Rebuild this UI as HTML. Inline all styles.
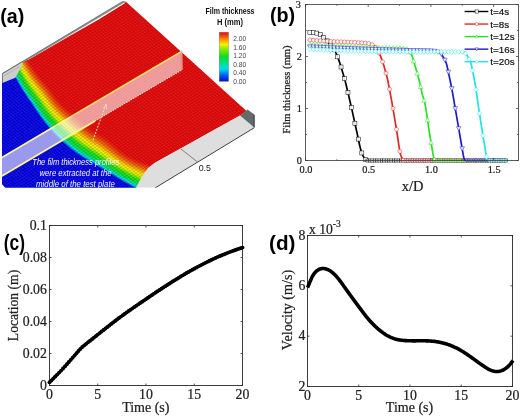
<!DOCTYPE html>
<html><head><meta charset="utf-8"><title>Figure</title>
<style>
html,body{margin:0;padding:0;background:#fff;}
body{width:520px;height:416px;overflow:hidden;}
svg{display:block;}
.sans{font-family:"Liberation Sans",sans-serif;}
.lg{stroke:#111;stroke-width:0.2px;}
.serif{font-family:"Liberation Serif",serif;stroke:#1a1a1a;stroke-width:0.22px;}
</style></head><body>
<svg width="520" height="416" viewBox="0 0 520 416">
<defs>
<filter id="blurA" x="-5%" y="-5%" width="110%" height="110%"><feGaussianBlur stdDeviation="0.45"/></filter>
<filter id="blurB" x="-5%" y="-5%" width="110%" height="110%"><feGaussianBlur stdDeviation="0.42"/></filter>
<filter id="soft" x="0" y="0" width="100%" height="100%" filterUnits="userSpaceOnUse"><feGaussianBlur stdDeviation="0.3"/></filter>
<filter id="blurC" x="-5%" y="-5%" width="110%" height="110%"><feGaussianBlur stdDeviation="0.35"/></filter>
<clipPath id="clipA"><polygon points="10,70.5 22,63.5 27.3,60.4 70,35.7 100,18.7 126.5,2.3 246.5,111 240,115.4 155,162.75 148,168 143,175 139,182 136,187.75 5,187.75 2,184.5 2,76"/></clipPath>
<pattern id="tex" width="1" height="1" patternUnits="userSpaceOnUse" patternTransform="matrix(2.3 -1.4 2.0 1.75 0 0)">
<circle cx="0.5" cy="0.5" r="0.3" fill="#fff" fill-opacity="0.10"/>
<rect x="0" y="0" width="1" height="0.26" fill="#000" fill-opacity="0.17"/>
<rect x="0" y="0" width="0.26" height="1" fill="#000" fill-opacity="0.17"/>
</pattern>
<linearGradient id="cbar" x1="0" y1="0" x2="0" y2="1">
<stop offset="0" stop-color="#e41414"/><stop offset="0.05" stop-color="#ee300a"/><stop offset="0.14" stop-color="#fa8c00"/><stop offset="0.25" stop-color="#f5f000"/><stop offset="0.36" stop-color="#78eb0a"/><stop offset="0.5" stop-color="#0adc28"/><stop offset="0.62" stop-color="#00e182"/><stop offset="0.75" stop-color="#00d7f0"/><stop offset="0.88" stop-color="#005af0"/><stop offset="1" stop-color="#0a0ad7"/>
</linearGradient>
</defs>
<rect width="520" height="416" fill="#fff"/>
<g filter="url(#soft)">
<g id="pa">
<g filter="url(#blurA)">
<polyline points="2.30,74.20 123.50,1.90 126.50,2.60" fill="none" stroke="#8c8c8c" stroke-width="1.7"/>
<polyline points="2.30,73.60 122.80,1.30" fill="none" stroke="#555" stroke-width="0.6"/>
<polygon points="10.00,70.50 22.00,63.50 27.30,60.40 70.00,35.70 100.00,18.70 126.50,2.30 246.50,111.00 240.00,115.40 155.00,162.75 148.00,168.00 143.00,175.00 139.00,182.00 136.00,187.75 5.00,187.75 2.00,184.50 2.00,76.00" fill="#ec0606"/>
<polygon points="26.60,56.35 28.00,58.86 29.45,61.35 30.95,63.80 32.51,66.22 34.11,68.61 35.78,70.96 37.50,73.26 39.28,75.52 41.11,77.73 42.99,79.92 44.88,82.09 46.76,84.26 48.60,86.47 50.39,88.72 52.10,91.03 53.77,93.38 55.43,95.73 57.13,98.05 58.92,100.30 60.82,102.45 62.82,104.51 64.91,106.50 67.05,108.42 69.24,110.31 71.44,112.16 73.65,114.00 75.85,115.85 78.05,117.70 80.23,119.58 82.38,121.50 84.52,123.43 86.68,125.35 88.88,127.20 91.16,128.94 93.55,130.53 96.03,131.98 98.57,133.35 101.11,134.70 103.63,136.10 106.07,137.61 108.40,139.27 110.64,141.06 112.82,142.94 114.98,144.86 117.13,146.79 119.32,148.68 121.55,150.51 123.84,152.26 126.19,153.91 128.63,155.42 131.14,156.80 133.73,158.05 136.37,159.20 139.05,160.27 141.76,161.28 144.49,162.25 147.21,163.20 149.92,164.15 152.60,165.11 137.00,190.00 0.00,190.00 0.00,60.00" fill="rgb(238, 13, 6)" clip-path="url(#clipA)"/>
<polygon points="26.20,56.70 27.60,59.21 29.05,61.70 30.55,64.16 32.11,66.59 33.71,68.98 35.37,71.33 37.08,73.65 38.86,75.91 40.69,78.13 42.56,80.32 44.44,82.50 46.32,84.69 48.16,86.90 49.94,89.16 51.65,91.48 53.32,93.83 54.98,96.18 56.69,98.50 58.47,100.76 60.36,102.92 62.36,104.98 64.44,106.98 66.59,108.91 68.77,110.81 70.96,112.67 73.17,114.52 75.37,116.37 77.56,118.24 79.74,120.12 81.90,122.04 84.04,123.98 86.20,125.89 88.41,127.75 90.69,129.49 93.08,131.09 95.56,132.54 98.09,133.92 100.64,135.28 103.16,136.69 105.60,138.19 107.93,139.85 110.18,141.64 112.38,143.50 114.54,145.42 116.71,147.33 118.91,149.21 121.15,151.04 123.44,152.78 125.80,154.42 128.24,155.94 130.76,157.32 133.34,158.58 135.98,159.74 138.66,160.82 141.37,161.85 144.09,162.83 146.82,163.79 149.52,164.75 152.20,165.72 137.00,190.00 0.00,190.00 0.00,60.00" fill="rgb(239, 19, 6)" clip-path="url(#clipA)"/>
<polygon points="25.80,57.05 27.21,59.56 28.66,62.06 30.16,64.52 31.71,66.95 33.31,69.35 34.96,71.71 36.67,74.03 38.44,76.30 40.27,78.53 42.13,80.73 44.01,82.92 45.88,85.11 47.71,87.33 49.49,89.60 51.20,91.92 52.87,94.28 54.54,96.63 56.24,98.96 58.02,101.22 59.91,103.38 61.91,105.46 63.98,107.46 66.12,109.41 68.29,111.31 70.49,113.18 72.69,115.04 74.89,116.90 77.08,118.77 79.26,120.66 81.41,122.58 83.56,124.52 85.72,126.44 87.93,128.29 90.22,130.04 92.60,131.64 95.08,133.11 97.62,134.49 100.17,135.86 102.68,137.27 105.13,138.78 107.47,140.43 109.73,142.21 111.93,144.07 114.11,145.97 116.29,147.87 118.50,149.75 120.75,151.56 123.05,153.30 125.41,154.94 127.85,156.46 130.37,157.84 132.96,159.11 135.59,160.28 138.27,161.38 140.98,162.41 143.70,163.40 146.42,164.38 149.12,165.35 151.80,166.34 137.00,190.00 0.00,190.00 0.00,60.00" fill="rgb(241, 26, 6)" clip-path="url(#clipA)"/>
<polygon points="25.40,57.40 26.81,59.92 28.26,62.41 29.76,64.88 31.30,67.32 32.90,69.72 34.55,72.09 36.26,74.42 38.02,76.70 39.84,78.93 41.70,81.14 43.57,83.33 45.44,85.53 47.27,87.76 49.05,90.03 50.76,92.36 52.42,94.72 54.09,97.08 55.79,99.41 57.57,101.67 59.46,103.85 61.45,105.93 63.52,107.94 65.65,109.90 67.82,111.81 70.01,113.70 72.21,115.56 74.40,117.43 76.59,119.30 78.77,121.20 80.93,123.12 83.08,125.06 85.25,126.98 87.46,128.84 89.75,130.59 92.13,132.19 94.61,133.67 97.14,135.06 99.69,136.44 102.21,137.85 104.66,139.36 107.01,141.01 109.27,142.78 111.49,144.63 113.68,146.52 115.87,148.41 118.09,150.28 120.34,152.09 122.65,153.82 125.02,155.46 127.47,156.97 129.99,158.36 132.57,159.64 135.21,160.82 137.88,161.93 140.59,162.97 143.30,163.98 146.02,164.97 148.72,165.95 151.40,166.95 137.00,190.00 0.00,190.00 0.00,60.00" fill="rgb(242, 35, 6)" clip-path="url(#clipA)"/>
<polygon points="25.00,57.75 26.41,60.27 27.87,62.77 29.36,65.24 30.90,67.68 32.50,70.09 34.14,72.47 35.84,74.80 37.60,77.09 39.42,79.33 41.27,81.55 43.14,83.75 45.00,85.96 46.83,88.19 48.60,90.47 50.31,92.80 51.98,95.17 53.64,97.53 55.34,99.86 57.12,102.13 59.01,104.31 61.00,106.40 63.06,108.42 65.19,110.39 67.35,112.31 69.53,114.21 71.72,116.08 73.92,117.96 76.11,119.84 78.29,121.74 80.45,123.67 82.60,125.61 84.77,127.53 86.99,129.38 89.28,131.14 91.66,132.75 94.14,134.23 96.67,135.63 99.22,137.02 101.73,138.43 104.18,139.95 106.54,141.59 108.82,143.36 111.04,145.19 113.24,147.07 115.45,148.96 117.67,150.81 119.94,152.61 122.26,154.34 124.63,155.97 127.08,157.49 129.60,158.89 132.18,160.17 134.82,161.36 137.49,162.48 140.19,163.54 142.91,164.56 145.62,165.56 148.32,166.55 151.00,167.56 137.00,190.00 0.00,190.00 0.00,60.00" fill="rgb(242, 46, 6)" clip-path="url(#clipA)"/>
<polygon points="24.60,58.10 26.02,60.62 27.47,63.12 28.96,65.60 30.50,68.05 32.09,70.46 33.73,72.85 35.43,75.19 37.18,77.48 38.99,79.73 40.84,81.95 42.71,84.16 44.56,86.38 46.38,88.62 48.15,90.91 49.86,93.25 51.53,95.61 53.19,97.98 54.90,100.32 56.68,102.59 58.56,104.78 60.54,106.88 62.60,108.91 64.72,110.88 66.88,112.81 69.05,114.72 71.24,116.60 73.43,118.49 75.62,120.37 77.80,122.28 79.96,124.21 82.12,126.15 84.29,128.07 86.51,129.93 88.80,131.68 91.19,133.30 93.67,134.79 96.20,136.20 98.74,137.59 101.26,139.02 103.71,140.53 106.08,142.18 108.36,143.93 110.60,145.76 112.81,147.62 115.02,149.50 117.26,151.34 119.54,153.13 121.86,154.86 124.24,156.49 126.69,158.01 129.21,159.41 131.80,160.70 134.43,161.90 137.10,163.03 139.80,164.10 142.51,165.14 145.22,166.15 147.92,167.15 150.60,168.17 137.00,190.00 0.00,190.00 0.00,60.00" fill="rgb(242, 58, 5)" clip-path="url(#clipA)"/>
<polygon points="24.20,58.45 25.62,60.97 27.07,63.48 28.57,65.96 30.10,68.41 31.69,70.84 33.32,73.22 35.02,75.57 36.77,77.87 38.57,80.13 40.41,82.36 42.27,84.58 44.12,86.81 45.94,89.06 47.71,91.35 49.41,93.69 51.08,96.06 52.75,98.43 54.45,100.77 56.23,103.05 58.11,105.24 60.08,107.35 62.14,109.39 64.25,111.37 66.40,113.31 68.58,115.23 70.76,117.12 72.95,119.01 75.14,120.91 77.32,122.82 79.48,124.75 81.64,126.70 83.82,128.62 86.04,130.47 88.33,132.23 90.72,133.86 93.20,135.35 95.72,136.77 98.27,138.17 100.78,139.60 103.24,141.12 105.61,142.76 107.91,144.50 110.15,146.32 112.38,148.18 114.60,150.04 116.85,151.87 119.14,153.66 121.47,155.38 123.85,157.01 126.31,158.53 128.83,159.93 131.41,161.23 134.05,162.44 136.71,163.58 139.41,164.67 142.12,165.71 144.82,166.74 147.52,167.76 150.20,168.79 137.00,190.00 0.00,190.00 0.00,60.00" fill="rgb(242, 70, 5)" clip-path="url(#clipA)"/>
<polygon points="23.80,58.80 25.22,61.32 26.68,63.83 28.17,66.32 29.70,68.78 31.28,71.21 32.92,73.60 34.60,75.95 36.35,78.27 38.15,80.53 39.99,82.77 41.84,85.00 43.68,87.23 45.49,89.49 47.26,91.78 48.96,94.13 50.63,96.51 52.30,98.88 54.00,101.22 55.78,103.51 57.66,105.70 59.63,107.82 61.68,109.87 63.78,111.86 65.93,113.82 68.10,115.74 70.28,117.64 72.47,119.54 74.65,121.44 76.83,123.36 79.00,125.29 81.16,127.24 83.34,129.16 85.56,131.02 87.86,132.78 90.25,134.41 92.72,135.91 95.25,137.34 97.79,138.75 100.31,140.18 102.77,141.70 105.15,143.34 107.45,145.07 109.71,146.88 111.95,148.73 114.18,150.58 116.44,152.40 118.73,154.18 121.07,155.90 123.46,157.52 125.92,159.04 128.44,160.45 131.03,161.76 133.66,162.98 136.32,164.13 139.02,165.23 141.72,166.29 144.43,167.33 147.12,168.36 149.80,169.40 137.00,190.00 0.00,190.00 0.00,60.00" fill="rgb(242, 81, 5)" clip-path="url(#clipA)"/>
<polygon points="23.40,59.15 24.83,61.68 26.28,64.19 27.77,66.68 29.30,69.14 30.88,71.58 32.51,73.98 34.19,76.34 35.93,78.66 37.72,80.93 39.56,83.18 41.40,85.41 43.24,87.65 45.05,89.92 46.81,92.22 48.51,94.57 50.18,96.95 51.85,99.33 53.55,101.68 55.33,103.96 57.20,106.17 59.17,108.29 61.22,110.35 63.32,112.36 65.46,114.32 67.62,116.25 69.80,118.16 71.98,120.07 74.17,121.98 76.34,123.90 78.51,125.84 80.68,127.78 82.86,129.70 85.09,131.56 87.39,133.33 89.78,134.96 92.25,136.47 94.78,137.91 97.32,139.33 99.84,140.77 102.30,142.28 104.68,143.92 107.00,145.65 109.27,147.45 111.51,149.28 113.76,151.12 116.03,152.94 118.33,154.71 120.68,156.41 123.07,158.04 125.53,159.56 128.06,160.98 130.64,162.29 133.27,163.52 135.93,164.68 138.62,165.79 141.32,166.87 144.03,167.92 146.72,168.96 149.40,170.01 137.00,190.00 0.00,190.00 0.00,60.00" fill="rgb(242, 93, 4)" clip-path="url(#clipA)"/>
<polygon points="23.00,59.50 24.43,62.03 25.88,64.54 27.37,67.04 28.90,69.51 30.48,71.95 32.10,74.36 33.77,76.72 35.51,79.05 37.30,81.33 39.13,83.59 40.97,85.83 42.80,88.08 44.61,90.35 46.37,92.66 48.07,95.02 49.73,97.40 51.40,99.78 53.11,102.13 54.88,104.42 56.75,106.63 58.72,108.77 60.75,110.83 62.85,112.85 64.99,114.82 67.15,116.76 69.32,118.68 71.50,120.60 73.68,122.51 75.86,124.44 78.03,126.38 80.20,128.33 82.38,130.25 84.62,132.11 86.92,133.88 89.31,135.52 91.78,137.04 94.30,138.48 96.84,139.90 99.36,141.35 101.83,142.87 104.22,144.50 106.54,146.22 108.82,148.01 111.08,149.83 113.34,151.66 115.62,153.47 117.93,155.23 120.28,156.93 122.68,158.56 125.15,160.08 127.67,161.50 130.26,162.82 132.88,164.06 135.54,165.23 138.23,166.36 140.93,167.44 143.63,168.51 146.32,169.56 149.00,170.62 137.00,190.00 0.00,190.00 0.00,60.00" fill="rgb(243, 107, 4)" clip-path="url(#clipA)"/>
<polygon points="22.60,59.85 24.03,62.38 25.49,64.90 26.98,67.40 28.50,69.87 30.07,72.32 31.69,74.73 33.36,77.11 35.09,79.44 36.88,81.73 38.70,83.99 40.54,86.24 42.36,88.50 44.16,90.78 45.92,93.10 47.62,95.46 49.29,97.84 50.96,100.23 52.66,102.58 54.43,104.88 56.30,107.10 58.26,109.24 60.29,111.32 62.38,113.34 64.51,115.32 66.67,117.27 68.84,119.20 71.02,121.13 73.20,123.05 75.37,124.97 77.54,126.92 79.71,128.87 81.91,130.79 84.14,132.66 86.45,134.43 88.84,136.07 91.31,137.60 93.83,139.05 96.37,140.48 98.89,141.93 101.36,143.45 103.75,145.08 106.09,146.79 108.38,148.57 110.65,150.38 112.92,152.20 115.20,154.00 117.52,155.76 119.88,157.45 122.29,159.07 124.76,160.60 127.29,162.02 129.87,163.35 132.50,164.60 135.16,165.79 137.84,166.92 140.53,168.02 143.23,169.10 145.92,170.16 148.60,171.24 137.00,190.00 0.00,190.00 0.00,60.00" fill="rgb(245, 123, 3)" clip-path="url(#clipA)"/>
<polygon points="22.20,60.20 23.63,62.73 25.09,65.25 26.58,67.76 28.10,70.24 29.67,72.69 31.28,75.11 32.95,77.49 34.67,79.83 36.45,82.13 38.27,84.40 40.10,86.66 41.93,88.92 43.72,91.21 45.47,93.53 47.17,95.90 48.84,98.29 50.51,100.68 52.21,103.04 53.98,105.34 55.85,107.56 57.80,109.71 59.83,111.80 61.92,113.83 64.04,115.82 66.19,117.78 68.36,119.72 70.53,121.65 72.71,123.58 74.89,125.51 77.06,127.46 79.23,129.41 81.43,131.34 83.67,133.20 85.97,134.97 88.36,136.62 90.83,138.16 93.35,139.62 95.89,141.06 98.41,142.52 100.89,144.04 103.29,145.66 105.63,147.37 107.93,149.14 110.21,150.94 112.49,152.74 114.79,154.53 117.12,156.28 119.49,157.97 121.90,159.59 124.37,161.12 126.90,162.54 129.49,163.88 132.11,165.14 134.77,166.34 137.44,167.48 140.14,168.60 142.83,169.69 145.52,170.77 148.20,171.85 137.00,190.00 0.00,190.00 0.00,60.00" fill="rgb(247, 139, 2)" clip-path="url(#clipA)"/>
<polygon points="21.80,60.55 23.24,63.08 24.70,65.61 26.18,68.12 27.70,70.60 29.26,73.06 30.87,75.49 32.53,77.88 34.25,80.23 36.03,82.53 37.84,84.81 39.67,87.08 41.49,89.35 43.28,91.64 45.02,93.97 46.72,96.34 48.39,98.74 50.06,101.13 51.76,103.49 53.54,105.80 55.40,108.03 57.35,110.19 59.37,112.28 61.45,114.32 63.57,116.32 65.71,118.29 67.88,120.24 70.05,122.18 72.23,124.12 74.40,126.05 76.58,128.00 78.75,129.96 80.95,131.88 83.20,133.75 85.50,135.52 87.89,137.18 90.36,138.72 92.88,140.19 95.42,141.64 97.94,143.10 100.42,144.62 102.82,146.24 105.18,147.94 107.49,149.70 109.78,151.49 112.07,153.29 114.38,155.06 116.72,156.80 119.09,158.49 121.51,160.11 123.99,161.63 126.52,163.06 129.10,164.41 131.72,165.68 134.38,166.89 137.05,168.05 139.74,169.17 142.44,170.28 145.12,171.37 147.80,172.46 137.00,190.00 0.00,190.00 0.00,60.00" fill="rgb(250, 156, 1)" clip-path="url(#clipA)"/>
<polygon points="21.40,60.90 22.84,63.44 24.30,65.96 25.79,68.47 27.30,70.97 28.86,73.43 30.46,75.87 32.12,78.26 33.83,80.62 35.60,82.93 37.41,85.22 39.23,87.49 41.05,89.77 42.83,92.07 44.58,94.41 46.27,96.78 47.94,99.18 49.61,101.58 51.32,103.94 53.09,106.26 54.95,108.49 56.89,110.66 58.91,112.76 60.98,114.81 63.10,116.83 65.24,118.81 67.39,120.76 69.56,122.71 71.74,124.65 73.92,126.59 76.09,128.55 78.27,130.50 80.48,132.43 82.72,134.29 85.03,136.07 87.42,137.73 89.89,139.28 92.41,140.76 94.94,142.22 97.46,143.68 99.94,145.20 102.36,146.82 104.72,148.51 107.04,150.26 109.35,152.04 111.65,153.83 113.97,155.60 116.32,157.33 118.70,159.01 121.12,160.62 123.60,162.15 126.13,163.59 128.71,164.94 131.33,166.22 133.99,167.44 136.66,168.61 139.35,169.75 142.04,170.87 144.72,171.97 147.40,173.07 137.00,190.00 0.00,190.00 0.00,60.00" fill="rgb(252, 172, 0)" clip-path="url(#clipA)"/>
<polygon points="21.00,61.25 22.44,63.79 23.90,66.32 25.39,68.83 26.90,71.33 28.45,73.80 30.05,76.25 31.71,78.65 33.42,81.01 35.18,83.33 36.98,85.62 38.80,87.91 40.61,90.20 42.39,92.51 44.13,94.85 45.82,97.23 47.49,99.63 49.16,102.03 50.87,104.40 52.64,106.71 54.50,108.96 56.44,111.13 58.45,113.24 60.52,115.31 62.62,117.33 64.76,119.32 66.91,121.28 69.08,123.24 71.25,125.18 73.43,127.13 75.61,129.09 77.79,131.04 80.00,132.97 82.25,134.84 84.56,136.62 86.95,138.29 89.42,139.84 91.93,141.33 94.47,142.79 96.99,144.26 99.47,145.79 101.90,147.40 104.26,149.09 106.60,150.83 108.91,152.59 111.23,154.37 113.56,156.13 115.91,157.85 118.30,159.53 120.73,161.14 123.21,162.67 125.75,164.11 128.33,165.47 130.95,166.76 133.60,167.99 136.27,169.18 138.95,170.33 141.64,171.46 144.33,172.57 147.00,173.69 137.00,190.00 0.00,190.00 0.00,60.00" fill="rgb(252, 189, 0)" clip-path="url(#clipA)"/>
<polygon points="20.60,61.60 22.05,64.14 23.51,66.67 24.99,69.19 26.50,71.70 28.05,74.18 29.64,76.62 31.29,79.03 33.00,81.40 34.76,83.73 36.55,86.03 38.36,88.32 40.17,90.62 41.95,92.94 43.68,95.28 45.38,97.67 47.04,100.07 48.72,102.48 50.42,104.85 52.19,107.17 54.04,109.42 55.98,111.60 57.99,113.73 60.05,115.80 62.15,117.83 64.28,119.83 66.43,121.80 68.60,123.77 70.77,125.72 72.95,127.67 75.13,129.63 77.31,131.59 79.52,133.51 81.77,135.38 84.09,137.17 86.48,138.84 88.95,140.41 91.46,141.90 93.99,143.37 96.52,144.85 99.00,146.37 101.43,147.98 103.81,149.66 106.15,151.39 108.48,153.15 110.81,154.91 113.15,156.66 115.51,158.38 117.91,160.05 120.34,161.66 122.83,163.19 125.36,164.63 127.94,166.00 130.56,167.30 133.21,168.54 135.87,169.74 138.55,170.91 141.24,172.05 143.93,173.17 146.60,174.30 137.00,190.00 0.00,190.00 0.00,60.00" fill="rgb(251, 206, 0)" clip-path="url(#clipA)"/>
<polygon points="20.20,61.95 21.65,64.49 23.11,67.03 24.59,69.55 26.10,72.06 27.65,74.55 29.24,77.00 30.88,79.42 32.58,81.79 34.33,84.13 36.12,86.44 37.93,88.74 39.73,91.04 41.50,93.37 43.24,95.72 44.93,98.11 46.60,100.52 48.27,102.92 49.97,105.30 51.74,107.63 53.59,109.89 55.52,112.08 57.53,114.21 59.58,116.29 61.68,118.33 63.80,120.34 65.95,122.32 68.11,124.29 70.28,126.25 72.46,128.21 74.64,130.17 76.83,132.13 79.04,134.06 81.30,135.93 83.62,137.72 86.01,139.39 88.47,140.97 90.98,142.47 93.52,143.95 96.04,145.43 98.53,146.96 100.97,148.56 103.35,150.23 105.71,151.95 108.05,153.70 110.39,155.45 112.74,157.19 115.11,158.90 117.51,160.57 119.95,162.17 122.44,163.71 124.98,165.15 127.56,166.53 130.17,167.84 132.82,169.09 135.48,170.30 138.16,171.48 140.84,172.64 143.53,173.78 146.20,174.91 137.00,190.00 0.00,190.00 0.00,60.00" fill="rgb(250, 223, 0)" clip-path="url(#clipA)"/>
<polygon points="19.80,62.30 21.25,64.84 22.72,67.38 24.20,69.91 25.70,72.43 27.24,74.92 28.83,77.38 30.46,79.80 32.16,82.19 33.91,84.53 35.70,86.85 37.50,89.15 39.29,91.47 41.06,93.80 42.79,96.16 44.48,98.55 46.15,100.97 47.82,103.37 49.53,105.76 51.29,108.09 53.14,110.35 55.07,112.55 57.06,114.69 59.12,116.78 61.21,118.83 63.33,120.85 65.47,122.84 67.63,124.82 69.80,126.79 71.98,128.75 74.16,130.72 76.35,132.68 78.57,134.60 80.83,136.47 83.15,138.26 85.54,139.95 88.00,141.53 90.51,143.04 93.04,144.53 95.57,146.01 98.06,147.54 100.50,149.14 102.90,150.81 105.26,152.51 107.62,154.25 109.96,155.99 112.32,157.72 114.71,159.43 117.12,161.09 119.56,162.69 122.05,164.22 124.59,165.68 127.17,167.06 129.79,168.38 132.43,169.64 135.09,170.87 137.76,172.06 140.44,173.23 143.13,174.38 145.80,175.53 137.00,190.00 0.00,190.00 0.00,60.00" fill="rgb(250, 240, 0)" clip-path="url(#clipA)"/>
<polygon points="19.40,62.65 20.86,65.19 22.32,67.74 23.80,70.27 25.30,72.79 26.84,75.29 28.42,77.76 30.05,80.19 31.74,82.58 33.49,84.93 35.27,87.25 37.06,89.57 38.85,91.89 40.61,94.23 42.34,96.60 44.03,99.00 45.70,101.41 47.37,103.82 49.08,106.21 50.84,108.55 52.69,110.82 54.61,113.02 56.60,115.17 58.65,117.27 60.73,119.33 62.85,121.36 64.99,123.36 67.14,125.35 69.31,127.32 71.49,129.29 73.68,131.26 75.87,133.22 78.09,135.15 80.35,137.02 82.67,138.81 85.07,140.50 87.53,142.09 90.04,143.61 92.57,145.10 95.09,146.60 97.59,148.13 100.04,149.72 102.44,151.38 104.82,153.08 107.18,154.80 109.54,156.53 111.91,158.25 114.30,159.95 116.72,161.61 119.17,163.21 121.67,164.74 124.21,166.20 126.79,167.59 129.40,168.92 132.04,170.20 134.70,171.43 137.37,172.64 140.05,173.82 142.73,174.98 145.40,176.14 137.00,190.00 0.00,190.00 0.00,60.00" fill="rgb(241, 240, 0)" clip-path="url(#clipA)"/>
<polygon points="19.00,63.00 20.46,65.55 21.92,68.09 23.40,70.63 24.90,73.16 26.43,75.66 28.01,78.13 29.64,80.57 31.32,82.97 33.06,85.33 34.84,87.66 36.63,89.99 38.41,92.31 40.17,94.66 41.90,97.03 43.58,99.44 45.25,101.86 46.93,104.27 48.63,106.66 50.40,109.00 52.24,111.28 54.16,113.50 56.14,115.65 58.18,117.76 60.26,119.83 62.37,121.87 64.51,123.88 66.66,125.88 68.83,127.86 71.01,129.83 73.19,131.80 75.39,133.76 77.61,135.69 79.88,137.57 82.20,139.36 84.60,141.05 87.06,142.65 89.56,144.18 92.09,145.68 94.62,147.18 97.12,148.71 99.57,150.30 101.99,151.95 104.38,153.64 106.75,155.35 109.12,157.07 111.50,158.79 113.90,160.47 116.33,162.12 118.78,163.72 121.28,165.26 123.82,166.72 126.40,168.12 129.01,169.46 131.65,170.75 134.30,172.00 136.97,173.21 139.65,174.41 142.33,175.58 145.00,176.75 137.00,190.00 0.00,190.00 0.00,60.00" fill="rgb(232, 241, 0)" clip-path="url(#clipA)"/>
<polygon points="18.60,63.35 20.06,65.90 21.53,68.45 23.00,70.99 24.50,73.52 26.03,76.03 27.60,78.51 29.22,80.96 30.90,83.36 32.64,85.73 34.41,88.07 36.19,90.40 37.97,92.74 39.73,95.09 41.45,97.47 43.13,99.88 44.80,102.30 46.48,104.72 48.18,107.12 49.95,109.46 51.79,111.75 53.70,113.97 55.68,116.14 57.71,118.26 59.79,120.34 61.90,122.38 64.03,124.40 66.18,126.40 68.34,128.39 70.52,130.37 72.71,132.34 74.91,134.31 77.14,136.24 79.41,138.11 81.73,139.91 84.13,141.61 86.58,143.21 89.09,144.75 91.62,146.26 94.14,147.76 96.65,149.29 99.11,150.88 101.53,152.53 103.93,154.20 106.32,155.91 108.70,157.62 111.09,159.32 113.50,161.00 115.93,162.64 118.39,164.24 120.90,165.78 123.44,167.24 126.02,168.65 128.62,170.00 131.26,171.30 133.91,172.56 136.58,173.79 139.25,175.00 141.93,176.18 144.60,177.36 137.00,190.00 0.00,190.00 0.00,60.00" fill="rgb(224, 242, 0)" clip-path="url(#clipA)"/>
<polygon points="18.20,63.70 19.67,66.25 21.13,68.80 22.61,71.35 24.10,73.89 25.63,76.40 27.19,78.89 28.81,81.34 30.49,83.75 32.21,86.13 33.98,88.48 35.76,90.82 37.53,93.16 39.28,95.52 41.00,97.91 42.69,100.32 44.35,102.75 46.03,105.17 47.74,107.57 49.50,109.92 51.33,112.21 53.25,114.44 55.22,116.62 57.25,118.75 59.32,120.84 61.42,122.89 63.54,124.92 65.69,126.93 67.86,128.93 70.04,130.91 72.23,132.89 74.43,134.85 76.66,136.78 78.93,138.66 81.26,140.46 83.65,142.16 86.11,143.78 88.62,145.32 91.14,146.84 93.67,148.34 96.18,149.88 98.64,151.46 101.08,153.10 103.49,154.77 105.88,156.46 108.28,158.16 110.68,159.85 113.10,161.52 115.54,163.16 118.00,164.76 120.51,166.29 123.05,167.77 125.63,169.18 128.24,170.54 130.87,171.85 133.52,173.12 136.18,174.37 138.85,175.58 141.53,176.79 144.20,177.97 137.00,190.00 0.00,190.00 0.00,60.00" fill="rgb(215, 242, 0)" clip-path="url(#clipA)"/>
<polygon points="17.80,64.05 19.27,66.60 20.74,69.16 22.21,71.71 23.70,74.25 25.22,76.77 26.78,79.27 28.39,81.73 30.07,84.15 31.79,86.53 33.55,88.89 35.33,91.23 37.09,93.58 38.84,95.95 40.55,98.35 42.24,100.77 43.91,103.20 45.58,105.62 47.29,108.02 49.05,110.38 50.88,112.68 52.79,114.91 54.76,117.10 56.78,119.24 58.84,121.34 60.94,123.40 63.06,125.44 65.21,127.46 67.37,129.46 69.55,131.45 71.74,133.43 73.95,135.39 76.18,137.33 78.46,139.20 80.79,141.01 83.18,142.72 85.64,144.34 88.14,145.89 90.67,147.42 93.19,148.93 95.70,150.46 98.18,152.04 100.62,153.67 103.04,155.33 105.45,157.01 107.86,158.70 110.27,160.38 112.69,162.05 115.14,163.68 117.61,165.27 120.12,166.81 122.67,168.29 125.24,169.71 127.85,171.08 130.48,172.40 133.12,173.69 135.78,174.94 138.45,176.17 141.13,177.39 143.80,178.59 137.00,190.00 0.00,190.00 0.00,60.00" fill="rgb(178, 240, 4)" clip-path="url(#clipA)"/>
<polygon points="17.40,64.40 18.87,66.95 20.34,69.51 21.81,72.07 23.30,74.62 24.82,77.14 26.37,79.65 27.98,82.11 29.65,84.54 31.37,86.93 33.12,89.29 34.89,91.65 36.65,94.01 38.40,96.39 40.11,98.78 41.79,101.21 43.46,103.64 45.13,106.07 46.84,108.47 48.60,110.84 50.43,113.14 52.33,115.39 54.30,117.58 56.31,119.73 58.37,121.84 60.46,123.92 62.58,125.96 64.72,127.99 66.89,130.00 69.07,131.99 71.26,133.97 73.47,135.94 75.71,137.87 77.98,139.75 80.32,141.55 82.71,143.27 85.17,144.90 87.67,146.47 90.19,147.99 92.72,149.51 95.23,151.05 97.71,152.63 100.17,154.24 102.60,155.89 105.02,157.56 107.43,159.24 109.86,160.91 112.29,162.57 114.75,164.20 117.23,165.79 119.74,167.33 122.28,168.81 124.86,170.24 127.46,171.62 130.09,172.95 132.73,174.25 135.39,175.52 138.06,176.76 140.73,177.99 143.40,179.20 137.00,190.00 0.00,190.00 0.00,60.00" fill="rgb(140, 238, 7)" clip-path="url(#clipA)"/>
<polygon points="17.00,64.75 18.48,67.31 19.94,69.87 21.41,72.43 22.90,74.98 24.41,77.52 25.96,80.02 27.57,82.50 29.23,84.93 30.94,87.33 32.69,89.70 34.46,92.06 36.22,94.43 37.95,96.82 39.66,99.22 41.34,101.65 43.01,104.09 44.69,106.52 46.39,108.93 48.15,111.29 49.98,113.61 51.88,115.86 53.84,118.06 55.85,120.22 57.90,122.34 59.99,124.43 62.10,126.48 64.24,128.52 66.40,130.53 68.58,132.53 70.77,134.51 72.99,136.48 75.23,138.41 77.51,140.29 79.84,142.10 82.24,143.82 84.70,145.46 87.19,147.04 89.72,148.57 92.25,150.09 94.76,151.63 97.25,153.21 99.71,154.82 102.15,156.46 104.58,158.11 107.01,159.78 109.44,161.44 111.89,163.09 114.35,164.72 116.84,166.31 119.35,167.85 121.90,169.33 124.47,170.77 127.07,172.16 129.70,173.50 132.34,174.82 134.99,176.10 137.66,177.35 140.33,178.59 143.00,179.81 137.00,190.00 0.00,190.00 0.00,60.00" fill="rgb(105, 235, 11)" clip-path="url(#clipA)"/>
<polygon points="16.60,65.10 18.08,67.66 19.55,70.22 21.02,72.79 22.50,75.35 24.01,77.89 25.56,80.40 27.15,82.88 28.81,85.32 30.52,87.73 32.26,90.11 34.02,92.48 35.78,94.86 37.51,97.25 39.21,99.66 40.89,102.09 42.56,104.54 44.24,106.97 45.95,109.38 47.70,111.75 49.53,114.07 51.42,116.33 53.38,118.55 55.38,120.71 57.43,122.84 59.51,124.94 61.62,127.00 63.76,129.04 65.92,131.06 68.10,133.07 70.29,135.06 72.51,137.03 74.75,138.96 77.04,140.84 79.37,142.65 81.77,144.38 84.22,146.02 86.72,147.61 89.24,149.15 91.77,150.68 94.29,152.21 96.78,153.79 99.26,155.39 101.71,157.02 104.15,158.67 106.59,160.32 109.03,161.98 111.49,163.62 113.95,165.24 116.45,166.82 118.96,168.37 121.51,169.86 124.09,171.30 126.69,172.70 129.31,174.06 131.95,175.38 134.60,176.67 137.26,177.94 139.93,179.19 142.60,180.43 137.00,190.00 0.00,190.00 0.00,60.00" fill="rgb(78, 232, 15)" clip-path="url(#clipA)"/>
<polygon points="16.20,65.45 17.68,68.01 19.15,70.58 20.62,73.15 22.10,75.71 23.60,78.26 25.15,80.78 26.74,83.27 28.39,85.71 30.10,88.13 31.84,90.52 33.59,92.90 35.34,95.28 37.06,97.68 38.77,100.10 40.45,102.54 42.11,104.98 43.79,107.42 45.50,109.83 47.26,112.21 49.08,114.53 50.97,116.81 52.91,119.03 54.91,121.21 56.95,123.34 59.03,125.45 61.14,127.52 63.27,129.57 65.43,131.60 67.61,133.61 69.81,135.60 72.03,137.57 74.27,139.50 76.56,141.38 78.90,143.20 81.30,144.93 83.75,146.58 86.25,148.18 88.77,149.73 91.30,151.26 93.82,152.80 96.32,154.37 98.80,155.96 101.26,157.58 103.72,159.22 106.17,160.86 108.62,162.51 111.08,164.14 113.56,165.76 116.06,167.34 118.58,168.88 121.13,170.38 123.70,171.83 126.30,173.24 128.92,174.61 131.55,175.94 134.20,177.25 136.86,178.53 139.53,179.79 142.20,181.04 137.00,190.00 0.00,190.00 0.00,60.00" fill="rgb(51, 229, 20)" clip-path="url(#clipA)"/>
<polygon points="15.80,65.80 17.29,68.36 18.75,70.93 20.22,73.51 21.70,76.08 23.20,78.63 24.74,81.16 26.33,83.65 27.97,86.11 29.67,88.53 31.41,90.92 33.16,93.31 34.90,95.70 36.62,98.11 38.32,100.53 40.00,102.98 41.67,105.43 43.34,107.87 45.05,110.29 46.81,112.67 48.63,115.00 50.51,117.28 52.45,119.51 54.45,121.70 56.48,123.85 58.55,125.96 60.66,128.04 62.79,130.10 64.95,132.13 67.12,134.15 69.32,136.14 71.54,138.11 73.80,140.05 76.09,141.93 78.43,143.75 80.83,145.49 83.28,147.15 85.77,148.75 88.29,150.30 90.82,151.84 93.35,153.38 95.86,154.95 98.34,156.54 100.82,158.15 103.29,159.77 105.75,161.40 108.21,163.04 110.68,164.67 113.16,166.28 115.67,167.86 118.19,169.40 120.74,170.90 123.32,172.36 125.91,173.78 128.53,175.16 131.16,176.51 133.81,177.83 136.46,179.12 139.13,180.40 141.80,181.65 137.00,190.00 0.00,190.00 0.00,60.00" fill="rgb(24, 226, 24)" clip-path="url(#clipA)"/>
<polygon points="15.40,66.15 16.89,68.71 18.36,71.29 19.82,73.87 21.30,76.44 22.80,79.00 24.33,81.53 25.91,84.04 27.55,86.50 29.25,88.93 30.98,91.33 32.72,93.73 34.46,96.13 36.18,98.54 37.87,100.97 39.55,103.42 41.22,105.87 42.90,108.32 44.60,110.74 46.36,113.13 48.17,115.46 50.05,117.75 51.99,119.99 53.98,122.19 56.01,124.35 58.08,126.47 60.18,128.56 62.31,130.63 64.46,132.67 66.64,134.69 68.84,136.68 71.06,138.66 73.32,140.59 75.62,142.48 77.96,144.30 80.36,146.04 82.81,147.71 85.30,149.32 87.82,150.88 90.35,152.43 92.88,153.97 95.39,155.53 97.89,157.11 100.37,158.71 102.85,160.32 105.33,161.95 107.80,163.57 110.28,165.19 112.77,166.80 115.28,168.38 117.80,169.92 120.36,171.42 122.93,172.89 125.53,174.32 128.14,175.71 130.77,177.07 133.41,178.41 136.07,179.71 138.73,181.00 141.40,182.26 137.00,190.00 0.00,190.00 0.00,60.00" fill="rgb(20, 226, 33)" clip-path="url(#clipA)"/>
<polygon points="15.00,66.50 16.49,69.07 17.96,71.64 19.43,74.23 20.90,76.81 22.39,79.37 23.92,81.91 25.50,84.42 27.14,86.89 28.83,89.33 30.55,91.74 32.29,94.14 34.02,96.55 35.73,98.97 37.43,101.41 39.10,103.86 40.77,106.32 42.45,108.77 44.16,111.19 45.91,113.58 47.72,115.93 49.60,118.22 51.53,120.47 53.51,122.68 55.54,124.85 57.60,126.98 59.70,129.08 61.82,131.16 63.98,133.20 66.15,135.22 68.36,137.23 70.58,139.20 72.84,141.14 75.14,143.02 77.49,144.84 79.89,146.59 82.34,148.27 84.82,149.89 87.34,151.46 89.87,153.01 92.41,154.55 94.93,156.11 97.43,157.68 99.93,159.27 102.42,160.88 104.90,162.49 107.39,164.10 109.88,165.72 112.37,167.32 114.89,168.89 117.42,170.44 119.97,171.95 122.54,173.42 125.14,174.85 127.75,176.26 130.38,177.64 133.02,178.98 135.67,180.30 138.33,181.60 141.00,182.88 137.00,190.00 0.00,190.00 0.00,60.00" fill="rgb(15, 225, 42)" clip-path="url(#clipA)"/>
<polygon points="14.60,66.85 16.09,69.42 17.57,72.00 19.03,74.59 20.50,77.17 21.99,79.74 23.51,82.29 25.08,84.81 26.72,87.28 28.40,89.73 30.12,92.15 31.85,94.56 33.58,96.97 35.29,99.40 36.98,101.85 38.65,104.30 40.32,106.77 42.00,109.22 43.71,111.65 45.46,114.04 47.27,116.39 49.14,118.70 51.07,120.96 53.05,123.17 55.06,125.35 57.12,127.49 59.21,129.60 61.34,131.68 63.49,133.74 65.67,135.76 67.87,137.77 70.10,139.74 72.37,141.68 74.67,143.57 77.02,145.39 79.41,147.15 81.86,148.83 84.35,150.46 86.87,152.04 89.40,153.59 91.94,155.13 94.46,156.69 96.98,158.26 99.49,159.84 101.99,161.43 104.48,163.03 106.98,164.64 109.47,166.24 111.98,167.83 114.50,169.41 117.03,170.95 119.59,172.47 122.16,173.95 124.75,175.39 127.36,176.81 129.98,178.20 132.62,179.56 135.27,180.89 137.93,182.20 140.60,183.49 137.00,190.00 0.00,190.00 0.00,60.00" fill="rgb(10, 224, 51)" clip-path="url(#clipA)"/>
<polygon points="14.20,67.20 15.70,69.77 17.17,72.35 18.63,74.95 20.10,77.54 21.58,80.11 23.10,82.67 24.67,85.19 26.30,87.68 27.98,90.13 29.69,92.55 31.42,94.97 33.14,97.40 34.85,99.83 36.53,102.28 38.20,104.75 39.87,107.21 41.55,109.67 43.26,112.10 45.01,114.50 46.82,116.86 48.69,119.17 50.61,121.44 52.58,123.66 54.59,125.85 56.65,128.00 58.73,130.12 60.85,132.21 63.00,134.27 65.18,136.30 67.39,138.31 69.62,140.29 71.89,142.22 74.19,144.11 76.54,145.94 78.94,147.70 81.39,149.39 83.88,151.03 86.39,152.62 88.93,154.17 91.46,155.72 94.00,157.27 96.52,158.83 99.04,160.40 101.55,161.98 104.06,163.57 106.56,165.17 109.07,166.76 111.58,168.35 114.11,169.93 116.64,171.47 119.20,172.99 121.77,174.48 124.36,175.93 126.97,177.36 129.59,178.76 132.22,180.14 134.87,181.48 137.53,182.80 140.20,184.10 137.00,190.00 0.00,190.00 0.00,60.00" fill="rgb(6, 224, 60)" clip-path="url(#clipA)"/>
<polygon points="13.80,67.55 15.30,70.12 16.77,72.71 18.23,75.31 19.70,77.90 21.18,80.48 22.69,83.05 24.26,85.58 25.88,88.07 27.55,90.53 29.26,92.96 30.98,95.39 32.70,97.82 34.40,100.27 36.09,102.72 37.76,105.19 39.42,107.66 41.11,110.12 42.81,112.55 44.56,114.96 46.37,117.32 48.23,119.64 50.15,121.92 52.11,124.16 54.12,126.35 56.17,128.52 58.25,130.64 60.37,132.74 62.52,134.81 64.70,136.84 66.91,138.85 69.14,140.83 71.41,142.77 73.72,144.66 76.07,146.49 78.47,148.25 80.92,149.95 83.40,151.60 85.92,153.19 88.45,154.76 90.99,156.30 93.53,157.85 96.07,159.40 98.60,160.96 101.12,162.53 103.64,164.11 106.15,165.70 108.67,167.29 111.19,168.87 113.72,170.44 116.26,171.99 118.82,173.51 121.39,175.01 123.98,176.47 126.58,177.91 129.20,179.33 131.83,180.71 134.47,182.07 137.13,183.41 139.80,184.71 137.00,190.00 0.00,190.00 0.00,60.00" fill="rgb(4, 225, 92)" clip-path="url(#clipA)"/>
<polygon points="13.40,67.90 14.90,70.47 16.38,73.06 17.84,75.67 19.30,78.27 20.77,80.85 22.28,83.42 23.84,85.96 25.46,88.46 27.13,90.93 28.83,93.37 30.55,95.81 32.26,98.24 33.96,100.70 35.64,103.16 37.31,105.63 38.98,108.10 40.66,110.57 42.37,113.01 44.12,115.42 45.92,117.79 47.77,120.12 49.69,122.40 51.64,124.65 53.65,126.85 55.69,129.03 57.77,131.16 59.89,133.27 62.03,135.34 64.21,137.38 66.42,139.39 68.66,141.37 70.93,143.31 73.25,145.20 75.60,147.04 78.00,148.81 80.45,150.51 82.93,152.17 85.44,153.77 87.98,155.34 90.52,156.89 93.07,158.43 95.61,159.98 98.15,161.53 100.69,163.08 103.22,164.65 105.74,166.23 108.27,167.81 110.79,169.39 113.33,170.96 115.87,172.51 118.43,174.03 121.00,175.54 123.59,177.01 126.19,178.47 128.80,179.89 131.43,181.29 134.07,182.66 136.73,184.01 139.40,185.33 137.00,190.00 0.00,190.00 0.00,60.00" fill="rgb(2, 227, 124)" clip-path="url(#clipA)"/>
<polygon points="13.00,68.25 14.51,70.82 15.98,73.42 17.44,76.03 18.90,78.63 20.37,81.23 21.88,83.80 23.43,86.35 25.04,88.85 26.71,91.33 28.40,93.78 30.12,96.22 31.82,98.67 33.51,101.13 35.19,103.60 36.86,106.07 38.53,108.55 40.21,111.01 41.92,113.46 43.67,115.88 45.47,118.25 47.32,120.59 49.22,122.88 51.18,125.14 53.18,127.36 55.21,129.54 57.29,131.68 59.40,133.80 61.55,135.87 63.73,137.92 65.94,139.94 68.18,141.92 70.46,143.86 72.77,145.75 75.13,147.59 77.53,149.36 79.97,151.08 82.46,152.74 84.97,154.35 87.50,155.92 90.05,157.47 92.60,159.01 95.16,160.55 97.71,162.09 100.25,163.64 102.79,165.19 105.33,166.76 107.86,168.34 110.40,169.91 112.94,171.48 115.48,173.03 118.04,174.56 120.62,176.07 123.20,177.55 125.80,179.02 128.41,180.46 131.04,181.87 133.68,183.25 136.33,184.61 139.00,185.94 137.00,190.00 0.00,190.00 0.00,60.00" fill="rgb(0, 227, 158)" clip-path="url(#clipA)"/>
<polygon points="12.60,68.60 14.11,71.18 15.59,73.78 17.04,76.38 18.50,79.00 19.97,81.60 21.47,84.18 23.01,86.73 24.62,89.24 26.28,91.72 27.97,94.19 29.68,96.64 31.38,99.09 33.07,101.56 34.74,104.03 36.41,106.52 38.08,109.00 39.76,111.46 41.47,113.91 43.22,116.33 45.01,118.72 46.86,121.06 48.76,123.36 50.71,125.63 52.70,127.86 54.74,130.05 56.81,132.20 58.92,134.32 61.06,136.41 63.24,138.46 65.45,140.48 67.70,142.46 69.98,144.40 72.30,146.29 74.66,148.13 77.06,149.92 79.50,151.64 81.98,153.31 84.49,154.93 87.03,156.51 89.58,158.06 92.14,159.59 94.70,161.12 97.26,162.65 99.82,164.19 102.37,165.73 104.92,167.29 107.46,168.86 110.00,170.43 112.55,171.99 115.10,173.54 117.66,175.08 120.23,176.60 122.81,178.09 125.41,179.57 128.02,181.02 130.64,182.44 133.28,183.84 135.93,185.21 138.60,186.55 137.00,190.00 0.00,190.00 0.00,60.00" fill="rgb(0, 222, 197)" clip-path="url(#clipA)"/>
<polygon points="12.20,68.95 13.71,71.53 15.19,74.13 16.64,76.74 18.10,79.36 19.56,81.97 21.06,84.56 22.60,87.12 24.20,89.64 25.86,92.12 27.55,94.59 29.25,97.05 30.95,99.52 32.63,101.99 34.30,104.47 35.96,106.96 37.63,109.44 39.31,111.91 41.02,114.37 42.77,116.79 44.56,119.18 46.41,121.53 48.30,123.85 50.24,126.12 52.23,128.36 54.26,130.56 56.33,132.72 58.43,134.85 60.58,136.94 62.76,139.00 64.97,141.02 67.22,143.01 69.50,144.95 71.83,146.84 74.19,148.68 76.59,150.47 79.03,152.20 81.51,153.88 84.02,155.50 86.55,157.09 89.11,158.64 91.67,160.17 94.25,161.70 96.82,163.22 99.39,164.74 101.95,166.28 104.51,167.83 107.06,169.39 109.61,170.95 112.16,172.51 114.71,174.06 117.27,175.60 119.85,177.13 122.43,178.63 125.02,180.12 127.63,181.58 130.25,183.02 132.88,184.43 135.53,185.81 138.20,187.16 137.00,190.00 0.00,190.00 0.00,60.00" fill="rgb(0, 216, 236)" clip-path="url(#clipA)"/>
<polygon points="11.80,69.30 13.32,71.88 14.79,74.49 16.25,77.10 17.70,79.73 19.16,82.34 20.65,84.93 22.19,87.50 23.79,90.03 25.44,92.52 27.12,95.00 28.81,97.47 30.51,99.94 32.18,102.42 33.85,104.91 35.51,107.40 37.18,109.89 38.87,112.36 40.58,114.82 42.32,117.25 44.11,119.65 45.95,122.01 47.84,124.33 49.78,126.61 51.76,128.86 53.78,131.07 55.85,133.24 57.95,135.38 60.09,137.48 62.27,139.54 64.49,141.56 66.74,143.55 69.03,145.49 71.35,147.39 73.71,149.23 76.12,151.02 78.56,152.76 81.03,154.45 83.54,156.08 86.08,157.67 88.64,159.22 91.21,160.75 93.79,162.27 96.37,163.78 98.96,165.29 101.53,166.82 104.10,168.36 106.66,169.91 109.21,171.47 111.77,173.03 114.33,174.58 116.89,176.12 119.46,177.66 122.04,179.17 124.63,180.67 127.23,182.15 129.85,183.60 132.48,185.02 135.13,186.42 137.80,187.77 137.00,190.00 0.00,190.00 0.00,60.00" fill="rgb(0, 158, 242)" clip-path="url(#clipA)"/>
<polygon points="11.40,69.65 12.92,72.23 14.40,74.84 15.85,77.46 17.30,80.09 18.75,82.71 20.24,85.31 21.77,87.88 23.37,90.42 25.01,92.92 26.69,95.41 28.38,97.88 30.07,100.36 31.74,102.85 33.40,105.35 35.07,107.84 36.73,110.33 38.42,112.81 40.13,115.27 41.87,117.71 43.66,120.11 45.50,122.48 47.38,124.81 49.31,127.10 51.29,129.36 53.30,131.58 55.36,133.76 57.47,135.91 59.61,138.01 61.79,140.08 64.00,142.11 66.26,144.09 68.55,146.04 70.88,147.93 73.24,149.78 75.65,151.58 78.09,153.32 80.56,155.02 83.07,156.66 85.60,158.25 88.17,159.81 90.75,161.33 93.33,162.84 95.93,164.34 98.52,165.84 101.11,167.36 103.68,168.89 106.25,170.43 108.82,171.99 111.38,173.54 113.94,175.10 116.50,176.65 119.07,178.19 121.65,179.71 124.24,181.22 126.84,182.71 129.45,184.18 132.08,185.61 134.73,187.02 137.40,188.39 137.00,190.00 0.00,190.00 0.00,60.00" fill="rgb(0, 84, 239)" clip-path="url(#clipA)"/>
<polygon points="11.00,70.00 12.52,72.58 14.00,75.20 15.45,77.82 16.90,80.46 18.35,83.08 19.83,85.69 21.36,88.27 22.95,90.81 24.59,93.32 26.26,95.82 27.95,98.30 29.63,100.79 31.30,103.28 32.96,105.78 34.62,108.29 36.29,110.78 37.97,113.26 39.68,115.73 41.42,118.17 43.21,120.58 45.04,122.95 46.92,125.29 48.84,127.60 50.81,129.86 52.83,132.09 54.88,134.28 56.98,136.44 59.12,138.55 61.30,140.62 63.52,142.65 65.78,144.64 68.07,146.58 70.40,148.48 72.77,150.33 75.18,152.13 77.61,153.88 80.09,155.59 82.59,157.24 85.13,158.84 87.70,160.39 90.28,161.91 92.88,163.41 95.48,164.91 98.09,166.40 100.69,167.90 103.27,169.42 105.85,170.96 108.42,172.51 110.99,174.06 113.55,175.62 116.12,177.17 118.69,178.72 121.27,180.25 123.85,181.77 126.45,183.28 129.06,184.75 131.69,186.20 134.33,187.62 137.00,189.00 137.00,190.00 0.00,190.00 0.00,60.00" fill="rgb(2, 2, 234)" clip-path="url(#clipA)"/>
<polygon points="10.00,70.50 22.00,63.50 27.30,60.40 70.00,35.70 100.00,18.70 126.50,2.30 246.50,111.00 240.00,115.40 155.00,162.75 148.00,168.00 143.00,175.00 139.00,182.00 136.00,187.75 5.00,187.75 2.00,184.50 2.00,76.00" fill="url(#tex)"/>
<polygon points="2.30,73.80 21.50,62.30 23.00,63.30 20.80,67.70 15.40,77.70 2.30,83.00" fill="#cdcdcd"/>
<polyline points="2.30,83.00 2.30,73.80 21.50,62.30" fill="none" stroke="#666" stroke-width="0.8"/>
<polyline points="2.30,76.80 19.50,66.60" fill="none" stroke="#999" stroke-width="0.5"/>
<polygon points="240.00,115.40 254.20,127.50 155.00,187.75 136.00,187.75 139.00,182.00 143.00,175.00 148.00,168.00 155.00,162.75" fill="#dedede"/>
<polyline points="254.20,127.80 155.00,188.00" fill="none" stroke="#2a2a2a" stroke-width="0.9"/>
<polygon points="240.00,115.40 247.30,109.80 254.20,114.80 254.20,127.50" fill="#646a6a"/>
<polyline points="254.20,114.80 254.20,127.50" fill="none" stroke="#2a2a2a" stroke-width="0.9"/>
<polyline points="247.30,109.80 254.20,114.80" fill="none" stroke="#555" stroke-width="0.6"/>
<polyline points="181.00,149.00 197.50,162.00" fill="none" stroke="#555" stroke-width="0.7"/>
<polygon points="0.00,184.30 2.00,184.30 5.20,187.75 5.20,191.00 0.00,191.00" fill="#fff"/>
<rect x="0" y="60" width="1.9" height="131" fill="#fff"/>
<rect x="0" y="187.8" width="160" height="4" fill="#fff"/>
<polygon points="2.00,157.40 182.30,51.00 182.70,69.60 2.00,175.90" fill="#fff" fill-opacity="0.59"/>
<polyline points="2.00,157.40 70.00,117.20" fill="none" stroke="#fff68c" stroke-width="1.7"/>
<polyline points="70.00,117.20 182.30,51.00" fill="none" stroke="#ffdc70" stroke-width="1.5"/>
<polyline points="2.00,175.90 95.00,120.90" fill="none" stroke="#fff68c" stroke-width="1.7"/>
<polyline points="95.00,120.90 182.70,69.60" fill="none" stroke="#fff8d0" stroke-width="1.1" stroke-dasharray="1.1 1.5" stroke-opacity="0.9"/>
<polygon points="180.60,52.00 182.30,51.00 182.70,69.60 180.60,70.80" fill="#e08080" fill-opacity="0.45"/>
<polyline points="93.00,140.00 106.00,104.50" fill="none" stroke="#ffe0a0" stroke-width="1.1" stroke-dasharray="2 1.3" stroke-opacity="0.9"/>
<polyline points="103.20,108.50 106.20,104.00 106.60,109.50" fill="none" stroke="#ffe8b8" stroke-width="0.8" stroke-opacity="0.9"/>
</g>
<rect x="219.2" y="32.2" width="9.4" height="49.2" fill="url(#cbar)" stroke="#666" stroke-width="0.3" filter="url(#blurA)"/>
<text x="233.3" y="41.20" class="sans" font-size="7.3" fill="#444" textLength="12.9" lengthAdjust="spacingAndGlyphs">2.00</text>
<text x="233.3" y="49.70" class="sans" font-size="7.3" fill="#444" textLength="12.9" lengthAdjust="spacingAndGlyphs">1.60</text>
<text x="233.3" y="58.20" class="sans" font-size="7.3" fill="#444" textLength="12.9" lengthAdjust="spacingAndGlyphs">1.20</text>
<text x="233.3" y="66.70" class="sans" font-size="7.3" fill="#444" textLength="12.9" lengthAdjust="spacingAndGlyphs">0.80</text>
<text x="233.3" y="75.20" class="sans" font-size="7.3" fill="#444" textLength="12.9" lengthAdjust="spacingAndGlyphs">0.40</text>
<text x="233.3" y="83.70" class="sans" font-size="7.3" fill="#444" textLength="12.9" lengthAdjust="spacingAndGlyphs">0.00</text>
<text x="230" y="14" class="sans" font-weight="bold" font-size="8.6" text-anchor="middle" fill="#111" textLength="49" lengthAdjust="spacingAndGlyphs">Film thickness</text>
<text x="230" y="25" class="sans" font-weight="bold" font-size="8.6" text-anchor="middle" fill="#111" textLength="26" lengthAdjust="spacingAndGlyphs">H (mm)</text>
<text x="204.8" y="171.3" class="sans" font-size="8.9" text-anchor="middle" fill="#222">0.5</text>
<g class="sans" font-style="italic" font-size="8.2" fill="#f4f4ff" text-anchor="middle">
<text x="75.8" y="165.3" textLength="87" lengthAdjust="spacingAndGlyphs">The film thickness profiles</text>
<text x="75.5" y="176" textLength="72" lengthAdjust="spacingAndGlyphs">were extracted at the</text>
<text x="75.5" y="187" textLength="79" lengthAdjust="spacingAndGlyphs">middle of the test plate</text>
</g>
<text x="0.3" y="23.4" class="sans" font-weight="bold" font-size="20.5" fill="#000" textLength="24" lengthAdjust="spacingAndGlyphs">(a)</text>
</g>
<g id="pb">
<g filter="url(#blurB)">
<polyline points="309.26,32.58 309.76,32.58 310.25,32.58 310.74,32.58 311.24,32.58 311.73,32.58 312.22,32.58 312.72,32.58 313.21,32.58 313.70,32.60 314.20,32.65 314.69,32.71 315.18,32.79 315.68,32.88 316.17,32.97 316.66,33.07 317.16,33.19 317.65,33.33 318.14,33.50 318.64,33.70 319.13,33.93 319.62,34.17 320.12,34.43" fill="none" stroke="#000000" stroke-width="1.6" stroke-opacity="0.45" stroke-linejoin="round"/>
<polyline points="320.12,34.43 320.61,34.70 321.10,35.00 321.60,35.35 322.09,35.75 322.58,36.17 323.08,36.62 323.57,37.08 324.06,37.55 324.56,38.02 325.05,38.52 325.55,39.04 326.04,39.58 326.53,40.14 327.03,40.71 327.52,41.29 328.01,41.87 328.51,42.45 329.00,43.04 329.49,43.63 329.99,44.23 330.48,44.85 330.97,45.48 331.47,46.13 331.96,46.79 332.45,47.45 332.95,48.11 333.44,48.78 333.93,49.49 334.43,50.24 334.92,51.06 335.41,51.95 335.91,52.93 336.40,53.99 336.89,55.13 337.39,56.34 337.88,57.61 338.37,58.95 338.87,60.34 339.36,61.79 339.85,63.27 340.35,64.80 340.84,66.35 341.33,67.94 341.83,69.55 342.32,71.17 342.82,72.80 343.31,74.45 343.80,76.15 344.30,77.92 344.79,79.75 345.28,81.63 345.78,83.56 346.27,85.54 346.76,87.55 347.26,89.60 347.75,91.67 348.24,93.76 348.74,95.87 349.23,97.99 349.72,100.11 350.22,102.23 350.71,104.35 351.20,106.47 351.70,108.64 352.19,110.85 352.68,113.09 353.18,115.35 353.67,117.62 354.16,119.91 354.66,122.19 355.15,124.46 355.64,126.72 356.14,128.96 356.63,131.17 357.12,133.36 357.62,135.64 358.11,137.99 358.60,140.36 359.10,142.70 359.59,144.98 360.09,147.12 360.58,149.09 361.07,150.84 361.57,152.32 362.06,153.58 362.55,154.74 363.05,155.79 363.54,156.74 364.03,157.60 364.53,158.36 365.02,159.13 365.51,159.88 366.01,160.39 366.50,160.50 366.99,160.50 367.49,160.50 367.98,160.50 368.47,160.50 368.97,160.50 369.46,160.50 369.95,160.50 370.45,160.50 370.94,160.50 371.43,160.50 371.93,160.50 372.42,160.50 372.91,160.50 373.41,160.50 373.90,160.50 374.39,160.50 374.89,160.50 375.38,160.50 375.87,160.50 376.37,160.50 376.86,160.50 377.36,160.50 377.85,160.50 378.34,160.50 378.84,160.50 379.33,160.50 379.82,160.50 380.32,160.50 380.81,160.50 381.30,160.50 381.80,160.50 382.29,160.50 382.78,160.50 383.28,160.50 383.77,160.50 384.26,160.50 384.76,160.50 385.25,160.50 385.74,160.50 386.24,160.50 386.73,160.50 387.22,160.50 387.72,160.50 388.21,160.50 388.70,160.50 389.20,160.50 389.69,160.50 390.18,160.50 390.68,160.50 391.17,160.50 391.66,160.50 392.16,160.50 392.65,160.50 393.14,160.50 393.64,160.50 394.13,160.50 394.63,160.50 395.12,160.50 395.61,160.50 396.11,160.50 396.60,160.50 397.09,160.50 397.59,160.50 398.08,160.50 398.57,160.50 399.07,160.50 399.56,160.50 400.05,160.50 400.55,160.50 401.04,160.50 401.53,160.50 402.03,160.50 402.52,160.50 403.01,160.50 403.51,160.50 404.00,160.50 404.49,160.50 404.99,160.50 405.48,160.50 405.97,160.50 406.47,160.50 406.96,160.50 407.45,160.50 407.95,160.50 408.44,160.50 408.93,160.50 409.43,160.50 409.92,160.50 410.41,160.50 410.91,160.50 411.40,160.50 411.90,160.50 412.39,160.50 412.88,160.50 413.38,160.50 413.87,160.50 414.36,160.50 414.86,160.50 415.35,160.50 415.84,160.50 416.34,160.50 416.83,160.50 417.32,160.50 417.82,160.50 418.31,160.50 418.80,160.50 419.30,160.50 419.79,160.50 420.28,160.50 420.78,160.50 421.27,160.50 421.76,160.50 422.26,160.50 422.75,160.50 423.24,160.50 423.74,160.50 424.23,160.50 424.72,160.50 425.22,160.50 425.71,160.50 426.20,160.50 426.70,160.50 427.19,160.50 427.68,160.50 428.18,160.50 428.67,160.50 429.17,160.50 429.66,160.50 430.15,160.50 430.65,160.50 431.14,160.50 431.63,160.50 432.13,160.50 432.62,160.50 433.11,160.50 433.61,160.50 434.10,160.50 434.59,160.50 435.09,160.50 435.58,160.50 436.07,160.50 436.57,160.50 437.06,160.50 437.55,160.50 438.05,160.50 438.54,160.50 439.03,160.50 439.53,160.50 440.02,160.50 440.51,160.50 441.01,160.50 441.50,160.50 441.99,160.50 442.49,160.50 442.98,160.50 443.47,160.50 443.97,160.50 444.46,160.50 444.95,160.50 445.45,160.50 445.94,160.50 446.44,160.50 446.93,160.50 447.42,160.50 447.92,160.50 448.41,160.50 448.90,160.50 449.40,160.50 449.89,160.50 450.38,160.50 450.88,160.50 451.37,160.50 451.86,160.50 452.36,160.50 452.85,160.50 453.34,160.50 453.84,160.50 454.33,160.50 454.82,160.50 455.32,160.50 455.81,160.50 456.30,160.50 456.80,160.50 457.29,160.50 457.78,160.50 458.28,160.50 458.77,160.50 459.26,160.50 459.76,160.50 460.25,160.50 460.74,160.50 461.24,160.50 461.73,160.50 462.22,160.50 462.72,160.50 463.21,160.50 463.71,160.50 464.20,160.50 464.69,160.50 465.19,160.50 465.68,160.50 466.17,160.50 466.67,160.50 467.16,160.50 467.65,160.50 468.15,160.50 468.64,160.50 469.13,160.50 469.63,160.50 470.12,160.50 470.61,160.50 471.11,160.50 471.60,160.50 472.09,160.50 472.59,160.50 473.08,160.50 473.57,160.50 474.07,160.50 474.56,160.50 475.05,160.50 475.55,160.50 476.04,160.50 476.53,160.50 477.03,160.50 477.52,160.50 478.01,160.50 478.51,160.50 479.00,160.50 479.49,160.50 479.99,160.50 480.48,160.50 480.98,160.50 481.47,160.50 481.96,160.50 482.46,160.50 482.95,160.50 483.44,160.50 483.94,160.50 484.43,160.50 484.92,160.50 485.42,160.50 485.91,160.50 486.40,160.50 486.90,160.50 487.39,160.50 487.88,160.50 488.38,160.50 488.87,160.50 489.36,160.50 489.86,160.50 490.35,160.50 490.84,160.50 491.34,160.50 491.83,160.50 492.32,160.50 492.82,160.50 493.31,160.50 493.80,160.50 494.30,160.50 494.79,160.50 495.28,160.50 495.78,160.50 496.27,160.50 496.76,160.50 497.26,160.50 497.75,160.50 498.25,160.50 498.74,160.50 499.23,160.50 499.73,160.50 500.22,160.50 500.71,160.50 501.21,160.50 501.70,160.50 502.19,160.50 502.69,160.50 503.18,160.50 503.67,160.50 504.17,160.50 504.66,160.50 505.15,160.50 505.65,160.50 506.14,160.50" fill="none" stroke="#000000" stroke-width="1.7" stroke-linejoin="round"/>
<rect x="307.89" y="30.58" width="4.00" height="4.00" fill="#fff" fill-opacity="0.9" stroke="#000000" stroke-width="0.5"/>
<rect x="311.35" y="30.59" width="4.00" height="4.00" fill="#fff" fill-opacity="0.9" stroke="#000000" stroke-width="0.5"/>
<rect x="314.81" y="31.11" width="4.00" height="4.00" fill="#fff" fill-opacity="0.9" stroke="#000000" stroke-width="0.5"/>
<rect x="318.27" y="32.51" width="4.00" height="4.00" fill="#fff" fill-opacity="0.9" stroke="#000000" stroke-width="0.5"/>
<rect x="321.73" y="35.23" width="4.00" height="4.00" fill="#fff" fill-opacity="0.9" stroke="#000000" stroke-width="0.5"/>
<rect x="325.19" y="38.91" width="4.00" height="4.00" fill="#fff" fill-opacity="0.9" stroke="#000000" stroke-width="0.5"/>
<rect x="328.66" y="43.07" width="4.00" height="4.00" fill="#fff" fill-opacity="0.9" stroke="#000000" stroke-width="0.5"/>
<rect x="332.12" y="47.76" width="4.00" height="4.00" fill="#fff" fill-opacity="0.9" stroke="#000000" stroke-width="0.5"/>
<rect x="335.58" y="54.82" width="4.00" height="4.00" fill="#fff" fill-opacity="0.9" stroke="#000000" stroke-width="0.5"/>
<rect x="339.04" y="64.98" width="4.00" height="4.00" fill="#fff" fill-opacity="0.9" stroke="#000000" stroke-width="0.5"/>
<rect x="342.50" y="76.67" width="4.00" height="4.00" fill="#fff" fill-opacity="0.9" stroke="#000000" stroke-width="0.5"/>
<rect x="345.96" y="90.56" width="4.00" height="4.00" fill="#fff" fill-opacity="0.9" stroke="#000000" stroke-width="0.5"/>
<rect x="349.42" y="105.43" width="4.00" height="4.00" fill="#fff" fill-opacity="0.9" stroke="#000000" stroke-width="0.5"/>
<rect x="352.88" y="121.23" width="4.00" height="4.00" fill="#fff" fill-opacity="0.9" stroke="#000000" stroke-width="0.5"/>
<rect x="356.34" y="137.10" width="4.00" height="4.00" fill="#fff" fill-opacity="0.9" stroke="#000000" stroke-width="0.5"/>
<rect x="359.80" y="150.94" width="4.00" height="4.00" fill="#fff" fill-opacity="0.9" stroke="#000000" stroke-width="0.5"/>
<rect x="363.27" y="157.52" width="4.00" height="4.00" fill="#fff" fill-opacity="0.9" stroke="#000000" stroke-width="0.5"/>
<rect x="366.02" y="158.95" width="3.10" height="3.10" fill="#fff" fill-opacity="0.9" stroke="#000000" stroke-width="0.5"/>
<rect x="368.41" y="158.95" width="3.10" height="3.10" fill="#fff" fill-opacity="0.9" stroke="#000000" stroke-width="0.5"/>
<rect x="370.79" y="158.95" width="3.10" height="3.10" fill="#fff" fill-opacity="0.9" stroke="#000000" stroke-width="0.5"/>
<rect x="373.17" y="158.95" width="3.10" height="3.10" fill="#fff" fill-opacity="0.9" stroke="#000000" stroke-width="0.5"/>
<rect x="375.55" y="158.95" width="3.10" height="3.10" fill="#fff" fill-opacity="0.9" stroke="#000000" stroke-width="0.5"/>
<rect x="377.94" y="158.95" width="3.10" height="3.10" fill="#fff" fill-opacity="0.9" stroke="#000000" stroke-width="0.5"/>
<rect x="380.32" y="158.95" width="3.10" height="3.10" fill="#fff" fill-opacity="0.9" stroke="#000000" stroke-width="0.5"/>
<rect x="382.70" y="158.95" width="3.10" height="3.10" fill="#fff" fill-opacity="0.9" stroke="#000000" stroke-width="0.5"/>
<rect x="385.08" y="158.95" width="3.10" height="3.10" fill="#fff" fill-opacity="0.9" stroke="#000000" stroke-width="0.5"/>
<rect x="387.47" y="158.95" width="3.10" height="3.10" fill="#fff" fill-opacity="0.9" stroke="#000000" stroke-width="0.5"/>
<rect x="389.85" y="158.95" width="3.10" height="3.10" fill="#fff" fill-opacity="0.9" stroke="#000000" stroke-width="0.5"/>
<rect x="392.23" y="158.95" width="3.10" height="3.10" fill="#fff" fill-opacity="0.9" stroke="#000000" stroke-width="0.5"/>
<rect x="394.61" y="158.95" width="3.10" height="3.10" fill="#fff" fill-opacity="0.9" stroke="#000000" stroke-width="0.5"/>
<rect x="397.00" y="158.95" width="3.10" height="3.10" fill="#fff" fill-opacity="0.9" stroke="#000000" stroke-width="0.5"/>
<rect x="399.38" y="158.95" width="3.10" height="3.10" fill="#fff" fill-opacity="0.9" stroke="#000000" stroke-width="0.5"/>
<rect x="401.76" y="158.95" width="3.10" height="3.10" fill="#fff" fill-opacity="0.9" stroke="#000000" stroke-width="0.5"/>
<rect x="404.14" y="158.95" width="3.10" height="3.10" fill="#fff" fill-opacity="0.9" stroke="#000000" stroke-width="0.5"/>
<rect x="406.53" y="158.95" width="3.10" height="3.10" fill="#fff" fill-opacity="0.9" stroke="#000000" stroke-width="0.5"/>
<rect x="408.91" y="158.95" width="3.10" height="3.10" fill="#fff" fill-opacity="0.9" stroke="#000000" stroke-width="0.5"/>
<rect x="411.29" y="158.95" width="3.10" height="3.10" fill="#fff" fill-opacity="0.9" stroke="#000000" stroke-width="0.5"/>
<rect x="413.68" y="158.95" width="3.10" height="3.10" fill="#fff" fill-opacity="0.9" stroke="#000000" stroke-width="0.5"/>
<rect x="416.06" y="158.95" width="3.10" height="3.10" fill="#fff" fill-opacity="0.9" stroke="#000000" stroke-width="0.5"/>
<rect x="418.44" y="158.95" width="3.10" height="3.10" fill="#fff" fill-opacity="0.9" stroke="#000000" stroke-width="0.5"/>
<rect x="420.82" y="158.95" width="3.10" height="3.10" fill="#fff" fill-opacity="0.9" stroke="#000000" stroke-width="0.5"/>
<rect x="423.21" y="158.95" width="3.10" height="3.10" fill="#fff" fill-opacity="0.9" stroke="#000000" stroke-width="0.5"/>
<rect x="425.59" y="158.95" width="3.10" height="3.10" fill="#fff" fill-opacity="0.9" stroke="#000000" stroke-width="0.5"/>
<rect x="427.97" y="158.95" width="3.10" height="3.10" fill="#fff" fill-opacity="0.9" stroke="#000000" stroke-width="0.5"/>
<rect x="430.35" y="158.95" width="3.10" height="3.10" fill="#fff" fill-opacity="0.9" stroke="#000000" stroke-width="0.5"/>
<rect x="432.74" y="158.95" width="3.10" height="3.10" fill="#fff" fill-opacity="0.9" stroke="#000000" stroke-width="0.5"/>
<rect x="435.12" y="158.95" width="3.10" height="3.10" fill="#fff" fill-opacity="0.9" stroke="#000000" stroke-width="0.5"/>
<rect x="437.50" y="158.95" width="3.10" height="3.10" fill="#fff" fill-opacity="0.9" stroke="#000000" stroke-width="0.5"/>
<rect x="439.88" y="158.95" width="3.10" height="3.10" fill="#fff" fill-opacity="0.9" stroke="#000000" stroke-width="0.5"/>
<rect x="442.27" y="158.95" width="3.10" height="3.10" fill="#fff" fill-opacity="0.9" stroke="#000000" stroke-width="0.5"/>
<rect x="444.65" y="158.95" width="3.10" height="3.10" fill="#fff" fill-opacity="0.9" stroke="#000000" stroke-width="0.5"/>
<rect x="447.03" y="158.95" width="3.10" height="3.10" fill="#fff" fill-opacity="0.9" stroke="#000000" stroke-width="0.5"/>
<rect x="449.41" y="158.95" width="3.10" height="3.10" fill="#fff" fill-opacity="0.9" stroke="#000000" stroke-width="0.5"/>
<rect x="451.80" y="158.95" width="3.10" height="3.10" fill="#fff" fill-opacity="0.9" stroke="#000000" stroke-width="0.5"/>
<rect x="454.18" y="158.95" width="3.10" height="3.10" fill="#fff" fill-opacity="0.9" stroke="#000000" stroke-width="0.5"/>
<rect x="456.56" y="158.95" width="3.10" height="3.10" fill="#fff" fill-opacity="0.9" stroke="#000000" stroke-width="0.5"/>
<rect x="458.94" y="158.95" width="3.10" height="3.10" fill="#fff" fill-opacity="0.9" stroke="#000000" stroke-width="0.5"/>
<rect x="461.33" y="158.95" width="3.10" height="3.10" fill="#fff" fill-opacity="0.9" stroke="#000000" stroke-width="0.5"/>
<rect x="463.71" y="158.95" width="3.10" height="3.10" fill="#fff" fill-opacity="0.9" stroke="#000000" stroke-width="0.5"/>
<rect x="466.09" y="158.95" width="3.10" height="3.10" fill="#fff" fill-opacity="0.9" stroke="#000000" stroke-width="0.5"/>
<rect x="468.47" y="158.95" width="3.10" height="3.10" fill="#fff" fill-opacity="0.9" stroke="#000000" stroke-width="0.5"/>
<rect x="470.86" y="158.95" width="3.10" height="3.10" fill="#fff" fill-opacity="0.9" stroke="#000000" stroke-width="0.5"/>
<rect x="473.24" y="158.95" width="3.10" height="3.10" fill="#fff" fill-opacity="0.9" stroke="#000000" stroke-width="0.5"/>
<rect x="475.62" y="158.95" width="3.10" height="3.10" fill="#fff" fill-opacity="0.9" stroke="#000000" stroke-width="0.5"/>
<rect x="478.01" y="158.95" width="3.10" height="3.10" fill="#fff" fill-opacity="0.9" stroke="#000000" stroke-width="0.5"/>
<rect x="480.39" y="158.95" width="3.10" height="3.10" fill="#fff" fill-opacity="0.9" stroke="#000000" stroke-width="0.5"/>
<rect x="482.77" y="158.95" width="3.10" height="3.10" fill="#fff" fill-opacity="0.9" stroke="#000000" stroke-width="0.5"/>
<rect x="485.15" y="158.95" width="3.10" height="3.10" fill="#fff" fill-opacity="0.9" stroke="#000000" stroke-width="0.5"/>
<rect x="487.54" y="158.95" width="3.10" height="3.10" fill="#fff" fill-opacity="0.9" stroke="#000000" stroke-width="0.5"/>
<rect x="489.92" y="158.95" width="3.10" height="3.10" fill="#fff" fill-opacity="0.9" stroke="#000000" stroke-width="0.5"/>
<rect x="492.30" y="158.95" width="3.10" height="3.10" fill="#fff" fill-opacity="0.9" stroke="#000000" stroke-width="0.5"/>
<rect x="494.68" y="158.95" width="3.10" height="3.10" fill="#fff" fill-opacity="0.9" stroke="#000000" stroke-width="0.5"/>
<rect x="497.07" y="158.95" width="3.10" height="3.10" fill="#fff" fill-opacity="0.9" stroke="#000000" stroke-width="0.5"/>
<rect x="499.45" y="158.95" width="3.10" height="3.10" fill="#fff" fill-opacity="0.9" stroke="#000000" stroke-width="0.5"/>
<rect x="501.83" y="158.95" width="3.10" height="3.10" fill="#fff" fill-opacity="0.9" stroke="#000000" stroke-width="0.5"/>
<rect x="504.21" y="158.95" width="3.10" height="3.10" fill="#fff" fill-opacity="0.9" stroke="#000000" stroke-width="0.5"/>
<polyline points="309.26,39.86 309.76,39.90 310.25,39.95 310.74,39.99 311.24,40.03 311.73,40.07 312.22,40.12 312.72,40.16 313.21,40.20 313.70,40.24 314.20,40.28 314.69,40.32 315.18,40.36 315.68,40.40 316.17,40.44 316.66,40.48 317.16,40.52 317.65,40.56 318.14,40.60 318.64,40.63 319.13,40.67 319.62,40.71 320.12,40.75 320.61,40.78 321.10,40.82 321.60,40.85 322.09,40.89 322.58,40.92 323.08,40.96 323.57,40.99 324.06,41.03 324.56,41.06 325.05,41.09 325.55,41.12 326.04,41.15 326.53,41.19 327.03,41.22 327.52,41.25 328.01,41.28 328.51,41.30 329.00,41.33 329.49,41.36 329.99,41.39 330.48,41.41 330.97,41.44 331.47,41.47 331.96,41.49 332.45,41.51 332.95,41.54 333.44,41.56 333.93,41.58 334.43,41.60 334.92,41.63 335.41,41.65 335.91,41.67 336.40,41.69 336.89,41.70 337.39,41.72 337.88,41.74 338.37,41.76 338.87,41.78 339.36,41.80 339.85,41.81 340.35,41.83 340.84,41.85 341.33,41.87 341.83,41.88 342.32,41.90 342.82,41.92 343.31,41.93 343.80,41.95 344.30,41.97 344.79,41.99 345.28,42.00 345.78,42.02 346.27,42.04 346.76,42.06 347.26,42.07 347.75,42.09 348.24,42.11 348.74,42.13 349.23,42.15 349.72,42.17 350.22,42.19 350.71,42.21 351.20,42.23 351.70,42.26 352.19,42.28 352.68,42.30 353.18,42.33 353.67,42.35 354.16,42.38 354.66,42.40 355.15,42.43 355.64,42.46 356.14,42.49 356.63,42.51 357.12,42.54 357.62,42.57 358.11,42.60 358.60,42.63 359.10,42.65 359.59,42.68 360.09,42.71 360.58,42.74 361.07,42.78 361.57,42.81 362.06,42.85 362.55,42.88 363.05,42.92 363.54,42.96 364.03,43.01 364.53,43.05 365.02,43.10 365.51,43.16 366.01,43.21 366.50,43.27 366.99,43.33 367.49,43.40 367.98,43.47 368.47,43.54 368.97,43.64 369.46,43.76 369.95,43.90 370.45,44.05 370.94,44.23 371.43,44.43 371.93,44.65 372.42,44.89 372.91,45.15" fill="none" stroke="#e02828" stroke-width="1.6" stroke-opacity="0.45" stroke-linejoin="round"/>
<polyline points="372.91,45.15 373.41,45.43 373.90,45.73 374.39,46.05 374.89,46.43 375.38,46.92 375.87,47.52 376.37,48.21 376.86,48.98 377.36,49.80 377.85,50.67 378.34,51.56 378.84,52.49 379.33,53.48 379.82,54.55 380.32,55.69 380.81,56.89 381.30,58.16 381.80,59.50 382.29,60.89 382.78,62.34 383.28,63.85 383.77,65.41 384.26,67.03 384.76,68.70 385.25,70.41 385.74,72.17 386.24,73.97 386.73,75.90 387.22,77.98 387.72,80.22 388.21,82.58 388.70,85.05 389.20,87.62 389.69,90.26 390.18,92.96 390.68,95.69 391.17,98.45 391.66,101.20 392.16,103.94 392.65,106.69 393.14,109.53 393.64,112.43 394.13,115.40 394.63,118.40 395.12,121.43 395.61,124.47 396.11,127.50 396.60,130.50 397.09,133.50 397.59,136.70 398.08,140.07 398.57,143.45 399.07,146.70 399.56,149.67 400.05,152.24 400.55,154.24 401.04,155.80 401.53,157.15 402.03,158.25 402.52,159.06 403.01,159.77 403.51,160.32 404.00,160.50 404.49,160.50 404.99,160.50 405.48,160.50 405.97,160.50 406.47,160.50 406.96,160.50 407.45,160.50 407.95,160.50 408.44,160.50 408.93,160.50 409.43,160.50 409.92,160.50 410.41,160.50 410.91,160.50 411.40,160.50 411.90,160.50 412.39,160.50 412.88,160.50 413.38,160.50 413.87,160.50 414.36,160.50 414.86,160.50 415.35,160.50 415.84,160.50 416.34,160.50 416.83,160.50 417.32,160.50 417.82,160.50 418.31,160.50 418.80,160.50 419.30,160.50 419.79,160.50 420.28,160.50 420.78,160.50 421.27,160.50 421.76,160.50 422.26,160.50 422.75,160.50 423.24,160.50 423.74,160.50 424.23,160.50 424.72,160.50 425.22,160.50 425.71,160.50 426.20,160.50 426.70,160.50 427.19,160.50 427.68,160.50 428.18,160.50 428.67,160.50 429.17,160.50 429.66,160.50 430.15,160.50 430.65,160.50 431.14,160.50 431.63,160.50 432.13,160.50 432.62,160.50 433.11,160.50 433.61,160.50 434.10,160.50 434.59,160.50 435.09,160.50 435.58,160.50 436.07,160.50 436.57,160.50 437.06,160.50 437.55,160.50 438.05,160.50 438.54,160.50 439.03,160.50 439.53,160.50 440.02,160.50 440.51,160.50 441.01,160.50 441.50,160.50 441.99,160.50 442.49,160.50 442.98,160.50 443.47,160.50 443.97,160.50 444.46,160.50 444.95,160.50 445.45,160.50 445.94,160.50 446.44,160.50 446.93,160.50 447.42,160.50 447.92,160.50 448.41,160.50 448.90,160.50 449.40,160.50 449.89,160.50 450.38,160.50 450.88,160.50 451.37,160.50 451.86,160.50 452.36,160.50 452.85,160.50 453.34,160.50 453.84,160.50 454.33,160.50 454.82,160.50 455.32,160.50 455.81,160.50 456.30,160.50 456.80,160.50 457.29,160.50 457.78,160.50 458.28,160.50 458.77,160.50 459.26,160.50 459.76,160.50 460.25,160.50 460.74,160.50 461.24,160.50 461.73,160.50 462.22,160.50 462.72,160.50 463.21,160.50 463.71,160.50 464.20,160.50 464.69,160.50 465.19,160.50 465.68,160.50 466.17,160.50 466.67,160.50 467.16,160.50 467.65,160.50 468.15,160.50 468.64,160.50 469.13,160.50 469.63,160.50 470.12,160.50 470.61,160.50 471.11,160.50 471.60,160.50 472.09,160.50 472.59,160.50 473.08,160.50 473.57,160.50 474.07,160.50 474.56,160.50 475.05,160.50 475.55,160.50 476.04,160.50 476.53,160.50 477.03,160.50 477.52,160.50 478.01,160.50 478.51,160.50 479.00,160.50 479.49,160.50 479.99,160.50 480.48,160.50 480.98,160.50 481.47,160.50 481.96,160.50 482.46,160.50 482.95,160.50 483.44,160.50 483.94,160.50 484.43,160.50 484.92,160.50 485.42,160.50 485.91,160.50 486.40,160.50 486.90,160.50 487.39,160.50 487.88,160.50 488.38,160.50 488.87,160.50 489.36,160.50 489.86,160.50 490.35,160.50 490.84,160.50 491.34,160.50 491.83,160.50 492.32,160.50 492.82,160.50 493.31,160.50 493.80,160.50 494.30,160.50 494.79,160.50 495.28,160.50 495.78,160.50 496.27,160.50 496.76,160.50 497.26,160.50 497.75,160.50 498.25,160.50 498.74,160.50 499.23,160.50 499.73,160.50 500.22,160.50 500.71,160.50 501.21,160.50 501.70,160.50 502.19,160.50 502.69,160.50 503.18,160.50 503.67,160.50 504.17,160.50 504.66,160.50 505.15,160.50 505.65,160.50 506.14,160.50" fill="none" stroke="#e02828" stroke-width="1.7" stroke-linejoin="round"/>
<circle cx="309.89" cy="39.91" r="2.00" fill="#fff" fill-opacity="0.9" stroke="#e02828" stroke-width="0.5"/>
<circle cx="313.35" cy="40.21" r="2.00" fill="#fff" fill-opacity="0.9" stroke="#e02828" stroke-width="0.5"/>
<circle cx="316.81" cy="40.49" r="2.00" fill="#fff" fill-opacity="0.9" stroke="#e02828" stroke-width="0.5"/>
<circle cx="320.27" cy="40.76" r="2.00" fill="#fff" fill-opacity="0.9" stroke="#e02828" stroke-width="0.5"/>
<circle cx="323.73" cy="41.00" r="2.00" fill="#fff" fill-opacity="0.9" stroke="#e02828" stroke-width="0.5"/>
<circle cx="327.19" cy="41.23" r="2.00" fill="#fff" fill-opacity="0.9" stroke="#e02828" stroke-width="0.5"/>
<circle cx="330.66" cy="41.42" r="2.00" fill="#fff" fill-opacity="0.9" stroke="#e02828" stroke-width="0.5"/>
<circle cx="334.12" cy="41.59" r="2.00" fill="#fff" fill-opacity="0.9" stroke="#e02828" stroke-width="0.5"/>
<circle cx="337.58" cy="41.73" r="2.00" fill="#fff" fill-opacity="0.9" stroke="#e02828" stroke-width="0.5"/>
<circle cx="341.04" cy="41.86" r="2.00" fill="#fff" fill-opacity="0.9" stroke="#e02828" stroke-width="0.5"/>
<circle cx="344.50" cy="41.98" r="2.00" fill="#fff" fill-opacity="0.9" stroke="#e02828" stroke-width="0.5"/>
<circle cx="347.96" cy="42.10" r="2.00" fill="#fff" fill-opacity="0.9" stroke="#e02828" stroke-width="0.5"/>
<circle cx="351.42" cy="42.24" r="2.00" fill="#fff" fill-opacity="0.9" stroke="#e02828" stroke-width="0.5"/>
<circle cx="354.88" cy="42.42" r="2.00" fill="#fff" fill-opacity="0.9" stroke="#e02828" stroke-width="0.5"/>
<circle cx="358.34" cy="42.61" r="2.00" fill="#fff" fill-opacity="0.9" stroke="#e02828" stroke-width="0.5"/>
<circle cx="361.80" cy="42.83" r="2.00" fill="#fff" fill-opacity="0.9" stroke="#e02828" stroke-width="0.5"/>
<circle cx="365.27" cy="43.13" r="2.00" fill="#fff" fill-opacity="0.9" stroke="#e02828" stroke-width="0.5"/>
<circle cx="368.73" cy="43.59" r="2.00" fill="#fff" fill-opacity="0.9" stroke="#e02828" stroke-width="0.5"/>
<circle cx="372.19" cy="44.78" r="2.00" fill="#fff" fill-opacity="0.9" stroke="#e02828" stroke-width="0.5"/>
<circle cx="375.65" cy="47.24" r="2.00" fill="#fff" fill-opacity="0.9" stroke="#e02828" stroke-width="0.5"/>
<circle cx="379.11" cy="53.03" r="2.00" fill="#fff" fill-opacity="0.9" stroke="#e02828" stroke-width="0.5"/>
<circle cx="382.57" cy="61.71" r="2.00" fill="#fff" fill-opacity="0.9" stroke="#e02828" stroke-width="0.5"/>
<circle cx="386.03" cy="73.22" r="2.00" fill="#fff" fill-opacity="0.9" stroke="#e02828" stroke-width="0.5"/>
<circle cx="389.49" cy="89.19" r="2.00" fill="#fff" fill-opacity="0.9" stroke="#e02828" stroke-width="0.5"/>
<circle cx="392.95" cy="108.42" r="2.00" fill="#fff" fill-opacity="0.9" stroke="#e02828" stroke-width="0.5"/>
<circle cx="396.42" cy="129.39" r="2.00" fill="#fff" fill-opacity="0.9" stroke="#e02828" stroke-width="0.5"/>
<circle cx="399.88" cy="151.37" r="2.00" fill="#fff" fill-opacity="0.9" stroke="#e02828" stroke-width="0.5"/>
<circle cx="403.34" cy="160.16" r="2.00" fill="#fff" fill-opacity="0.9" stroke="#e02828" stroke-width="0.5"/>
<circle cx="405.19" cy="160.50" r="1.55" fill="#fff" fill-opacity="0.9" stroke="#e02828" stroke-width="0.5"/>
<circle cx="407.58" cy="160.50" r="1.55" fill="#fff" fill-opacity="0.9" stroke="#e02828" stroke-width="0.5"/>
<circle cx="409.96" cy="160.50" r="1.55" fill="#fff" fill-opacity="0.9" stroke="#e02828" stroke-width="0.5"/>
<circle cx="412.34" cy="160.50" r="1.55" fill="#fff" fill-opacity="0.9" stroke="#e02828" stroke-width="0.5"/>
<circle cx="414.72" cy="160.50" r="1.55" fill="#fff" fill-opacity="0.9" stroke="#e02828" stroke-width="0.5"/>
<circle cx="417.11" cy="160.50" r="1.55" fill="#fff" fill-opacity="0.9" stroke="#e02828" stroke-width="0.5"/>
<circle cx="419.49" cy="160.50" r="1.55" fill="#fff" fill-opacity="0.9" stroke="#e02828" stroke-width="0.5"/>
<circle cx="421.87" cy="160.50" r="1.55" fill="#fff" fill-opacity="0.9" stroke="#e02828" stroke-width="0.5"/>
<circle cx="424.25" cy="160.50" r="1.55" fill="#fff" fill-opacity="0.9" stroke="#e02828" stroke-width="0.5"/>
<circle cx="426.64" cy="160.50" r="1.55" fill="#fff" fill-opacity="0.9" stroke="#e02828" stroke-width="0.5"/>
<circle cx="429.02" cy="160.50" r="1.55" fill="#fff" fill-opacity="0.9" stroke="#e02828" stroke-width="0.5"/>
<circle cx="431.40" cy="160.50" r="1.55" fill="#fff" fill-opacity="0.9" stroke="#e02828" stroke-width="0.5"/>
<circle cx="433.78" cy="160.50" r="1.55" fill="#fff" fill-opacity="0.9" stroke="#e02828" stroke-width="0.5"/>
<circle cx="436.17" cy="160.50" r="1.55" fill="#fff" fill-opacity="0.9" stroke="#e02828" stroke-width="0.5"/>
<circle cx="438.55" cy="160.50" r="1.55" fill="#fff" fill-opacity="0.9" stroke="#e02828" stroke-width="0.5"/>
<circle cx="440.93" cy="160.50" r="1.55" fill="#fff" fill-opacity="0.9" stroke="#e02828" stroke-width="0.5"/>
<circle cx="443.31" cy="160.50" r="1.55" fill="#fff" fill-opacity="0.9" stroke="#e02828" stroke-width="0.5"/>
<circle cx="445.70" cy="160.50" r="1.55" fill="#fff" fill-opacity="0.9" stroke="#e02828" stroke-width="0.5"/>
<circle cx="448.08" cy="160.50" r="1.55" fill="#fff" fill-opacity="0.9" stroke="#e02828" stroke-width="0.5"/>
<circle cx="450.46" cy="160.50" r="1.55" fill="#fff" fill-opacity="0.9" stroke="#e02828" stroke-width="0.5"/>
<circle cx="452.85" cy="160.50" r="1.55" fill="#fff" fill-opacity="0.9" stroke="#e02828" stroke-width="0.5"/>
<circle cx="455.23" cy="160.50" r="1.55" fill="#fff" fill-opacity="0.9" stroke="#e02828" stroke-width="0.5"/>
<circle cx="457.61" cy="160.50" r="1.55" fill="#fff" fill-opacity="0.9" stroke="#e02828" stroke-width="0.5"/>
<circle cx="459.99" cy="160.50" r="1.55" fill="#fff" fill-opacity="0.9" stroke="#e02828" stroke-width="0.5"/>
<circle cx="462.38" cy="160.50" r="1.55" fill="#fff" fill-opacity="0.9" stroke="#e02828" stroke-width="0.5"/>
<circle cx="464.76" cy="160.50" r="1.55" fill="#fff" fill-opacity="0.9" stroke="#e02828" stroke-width="0.5"/>
<circle cx="467.14" cy="160.50" r="1.55" fill="#fff" fill-opacity="0.9" stroke="#e02828" stroke-width="0.5"/>
<circle cx="469.52" cy="160.50" r="1.55" fill="#fff" fill-opacity="0.9" stroke="#e02828" stroke-width="0.5"/>
<circle cx="471.91" cy="160.50" r="1.55" fill="#fff" fill-opacity="0.9" stroke="#e02828" stroke-width="0.5"/>
<circle cx="474.29" cy="160.50" r="1.55" fill="#fff" fill-opacity="0.9" stroke="#e02828" stroke-width="0.5"/>
<circle cx="476.67" cy="160.50" r="1.55" fill="#fff" fill-opacity="0.9" stroke="#e02828" stroke-width="0.5"/>
<circle cx="479.05" cy="160.50" r="1.55" fill="#fff" fill-opacity="0.9" stroke="#e02828" stroke-width="0.5"/>
<circle cx="481.44" cy="160.50" r="1.55" fill="#fff" fill-opacity="0.9" stroke="#e02828" stroke-width="0.5"/>
<circle cx="483.82" cy="160.50" r="1.55" fill="#fff" fill-opacity="0.9" stroke="#e02828" stroke-width="0.5"/>
<circle cx="486.20" cy="160.50" r="1.55" fill="#fff" fill-opacity="0.9" stroke="#e02828" stroke-width="0.5"/>
<circle cx="488.58" cy="160.50" r="1.55" fill="#fff" fill-opacity="0.9" stroke="#e02828" stroke-width="0.5"/>
<circle cx="490.97" cy="160.50" r="1.55" fill="#fff" fill-opacity="0.9" stroke="#e02828" stroke-width="0.5"/>
<circle cx="493.35" cy="160.50" r="1.55" fill="#fff" fill-opacity="0.9" stroke="#e02828" stroke-width="0.5"/>
<circle cx="495.73" cy="160.50" r="1.55" fill="#fff" fill-opacity="0.9" stroke="#e02828" stroke-width="0.5"/>
<circle cx="498.11" cy="160.50" r="1.55" fill="#fff" fill-opacity="0.9" stroke="#e02828" stroke-width="0.5"/>
<circle cx="500.50" cy="160.50" r="1.55" fill="#fff" fill-opacity="0.9" stroke="#e02828" stroke-width="0.5"/>
<circle cx="502.88" cy="160.50" r="1.55" fill="#fff" fill-opacity="0.9" stroke="#e02828" stroke-width="0.5"/>
<circle cx="505.26" cy="160.50" r="1.55" fill="#fff" fill-opacity="0.9" stroke="#e02828" stroke-width="0.5"/>
<polyline points="309.26,44.02 309.76,44.05 310.25,44.09 310.74,44.12 311.24,44.16 311.73,44.19 312.22,44.23 312.72,44.26 313.21,44.30 313.70,44.33 314.20,44.36 314.69,44.40 315.18,44.43 315.68,44.47 316.17,44.50 316.66,44.53 317.16,44.57 317.65,44.60 318.14,44.63 318.64,44.66 319.13,44.70 319.62,44.73 320.12,44.76 320.61,44.79 321.10,44.83 321.60,44.86 322.09,44.89 322.58,44.92 323.08,44.95 323.57,44.99 324.06,45.02 324.56,45.05 325.05,45.08 325.55,45.11 326.04,45.14 326.53,45.17 327.03,45.20 327.52,45.23 328.01,45.26 328.51,45.29 329.00,45.32 329.49,45.35 329.99,45.38 330.48,45.41 330.97,45.44 331.47,45.47 331.96,45.50 332.45,45.53 332.95,45.55 333.44,45.58 333.93,45.61 334.43,45.64 334.92,45.67 335.41,45.69 335.91,45.72 336.40,45.75 336.89,45.78 337.39,45.80 337.88,45.83 338.37,45.86 338.87,45.88 339.36,45.91 339.85,45.93 340.35,45.96 340.84,45.98 341.33,46.01 341.83,46.04 342.32,46.06 342.82,46.08 343.31,46.11 343.80,46.13 344.30,46.16 344.79,46.18 345.28,46.21 345.78,46.23 346.27,46.25 346.76,46.28 347.26,46.30 347.75,46.33 348.24,46.35 348.74,46.37 349.23,46.40 349.72,46.42 350.22,46.44 350.71,46.47 351.20,46.49 351.70,46.51 352.19,46.54 352.68,46.56 353.18,46.58 353.67,46.60 354.16,46.63 354.66,46.65 355.15,46.67 355.64,46.69 356.14,46.72 356.63,46.74 357.12,46.76 357.62,46.78 358.11,46.80 358.60,46.82 359.10,46.85 359.59,46.87 360.09,46.89 360.58,46.91 361.07,46.93 361.57,46.95 362.06,46.97 362.55,46.99 363.05,47.01 363.54,47.03 364.03,47.05 364.53,47.07 365.02,47.09 365.51,47.11 366.01,47.13 366.50,47.15 366.99,47.17 367.49,47.19 367.98,47.21 368.47,47.23 368.97,47.25 369.46,47.27 369.95,47.29 370.45,47.31 370.94,47.32 371.43,47.34 371.93,47.36 372.42,47.38 372.91,47.40 373.41,47.41 373.90,47.43 374.39,47.45 374.89,47.47 375.38,47.48 375.87,47.50 376.37,47.52 376.86,47.53 377.36,47.55 377.85,47.57 378.34,47.58 378.84,47.60 379.33,47.62 379.82,47.63 380.32,47.65 380.81,47.66 381.30,47.68 381.80,47.69 382.29,47.70 382.78,47.72 383.28,47.73 383.77,47.74 384.26,47.75 384.76,47.76 385.25,47.77 385.74,47.78 386.24,47.79 386.73,47.80 387.22,47.81 387.72,47.82 388.21,47.83 388.70,47.84 389.20,47.85 389.69,47.86 390.18,47.87 390.68,47.88 391.17,47.89 391.66,47.90 392.16,47.91 392.65,47.92 393.14,47.93 393.64,47.94 394.13,47.95 394.63,47.96 395.12,47.98 395.61,47.99 396.11,48.00 396.60,48.02 397.09,48.03 397.59,48.05 398.08,48.07 398.57,48.09 399.07,48.10 399.56,48.12 400.05,48.15 400.55,48.17 401.04,48.19 401.53,48.22 402.03,48.25 402.52,48.29 403.01,48.33 403.51,48.38 404.00,48.43 404.49,48.49 404.99,48.56 405.48,48.64" fill="none" stroke="#2ce02c" stroke-width="1.6" stroke-opacity="0.45" stroke-linejoin="round"/>
<polyline points="405.48,48.64 405.97,48.73 406.47,48.86 406.96,49.05 407.45,49.28 407.95,49.56 408.44,49.88 408.93,50.24 409.43,50.74 409.92,51.43 410.41,52.29 410.91,53.25 411.40,54.29 411.90,55.43 412.39,56.78 412.88,58.30 413.38,59.94 413.87,61.66 414.36,63.42 414.86,65.18 415.35,66.90 415.84,68.58 416.34,70.27 416.83,71.99 417.32,73.72 417.82,75.49 418.31,77.29 418.80,79.14 419.30,81.04 419.79,82.99 420.28,85.04 420.78,87.28 421.27,89.59 421.76,91.87 422.26,93.98 422.75,95.83 423.24,97.51 423.74,99.14 424.23,100.84 424.72,102.75 425.22,104.99 425.71,107.65 426.20,110.66 426.70,113.93 427.19,117.37 427.68,120.89 428.18,124.39 428.67,127.79 429.17,130.99 429.66,134.07 430.15,137.14 430.65,140.17 431.14,143.15 431.63,146.07 432.13,148.90 432.62,151.86 433.11,154.82 433.61,157.17 434.10,158.59 434.59,159.74 435.09,160.43 435.58,160.50 436.07,160.50 436.57,160.50 437.06,160.50 437.55,160.50 438.05,160.50 438.54,160.50 439.03,160.50 439.53,160.50 440.02,160.50 440.51,160.50 441.01,160.50 441.50,160.50 441.99,160.50 442.49,160.50 442.98,160.50 443.47,160.50 443.97,160.50 444.46,160.50 444.95,160.50 445.45,160.50 445.94,160.50 446.44,160.50 446.93,160.50 447.42,160.50 447.92,160.50 448.41,160.50 448.90,160.50 449.40,160.50 449.89,160.50 450.38,160.50 450.88,160.50 451.37,160.50 451.86,160.50 452.36,160.50 452.85,160.50 453.34,160.50 453.84,160.50 454.33,160.50 454.82,160.50 455.32,160.50 455.81,160.50 456.30,160.50 456.80,160.50 457.29,160.50 457.78,160.50 458.28,160.50 458.77,160.50 459.26,160.50 459.76,160.50 460.25,160.50 460.74,160.50 461.24,160.50 461.73,160.50 462.22,160.50 462.72,160.50 463.21,160.50 463.71,160.50 464.20,160.50 464.69,160.50 465.19,160.50 465.68,160.50 466.17,160.50 466.67,160.50 467.16,160.50 467.65,160.50 468.15,160.50 468.64,160.50 469.13,160.50 469.63,160.50 470.12,160.50 470.61,160.50 471.11,160.50 471.60,160.50 472.09,160.50 472.59,160.50 473.08,160.50 473.57,160.50 474.07,160.50 474.56,160.50 475.05,160.50 475.55,160.50 476.04,160.50 476.53,160.50 477.03,160.50 477.52,160.50 478.01,160.50 478.51,160.50 479.00,160.50 479.49,160.50 479.99,160.50 480.48,160.50 480.98,160.50 481.47,160.50 481.96,160.50 482.46,160.50 482.95,160.50 483.44,160.50 483.94,160.50 484.43,160.50 484.92,160.50 485.42,160.50 485.91,160.50 486.40,160.50 486.90,160.50 487.39,160.50 487.88,160.50 488.38,160.50 488.87,160.50 489.36,160.50 489.86,160.50 490.35,160.50 490.84,160.50 491.34,160.50 491.83,160.50 492.32,160.50 492.82,160.50 493.31,160.50 493.80,160.50 494.30,160.50 494.79,160.50 495.28,160.50 495.78,160.50 496.27,160.50 496.76,160.50 497.26,160.50 497.75,160.50 498.25,160.50 498.74,160.50 499.23,160.50 499.73,160.50 500.22,160.50 500.71,160.50 501.21,160.50 501.70,160.50 502.19,160.50 502.69,160.50 503.18,160.50 503.67,160.50 504.17,160.50 504.66,160.50 505.15,160.50 505.65,160.50 506.14,160.50" fill="none" stroke="#2ce02c" stroke-width="1.7" stroke-linejoin="round"/>
<polygon points="307.59,45.90 312.19,45.90 309.89,41.76" fill="#fff" fill-opacity="0.9" stroke="#2ce02c" stroke-width="0.5"/>
<polygon points="311.05,46.15 315.65,46.15 313.35,42.01" fill="#fff" fill-opacity="0.9" stroke="#2ce02c" stroke-width="0.5"/>
<polygon points="314.51,46.38 319.11,46.38 316.81,42.24" fill="#fff" fill-opacity="0.9" stroke="#2ce02c" stroke-width="0.5"/>
<polygon points="317.97,46.61 322.57,46.61 320.27,42.47" fill="#fff" fill-opacity="0.9" stroke="#2ce02c" stroke-width="0.5"/>
<polygon points="321.43,46.84 326.03,46.84 323.73,42.70" fill="#fff" fill-opacity="0.9" stroke="#2ce02c" stroke-width="0.5"/>
<polygon points="324.89,47.05 329.49,47.05 327.19,42.91" fill="#fff" fill-opacity="0.9" stroke="#2ce02c" stroke-width="0.5"/>
<polygon points="328.36,47.26 332.96,47.26 330.66,43.12" fill="#fff" fill-opacity="0.9" stroke="#2ce02c" stroke-width="0.5"/>
<polygon points="331.82,47.46 336.42,47.46 334.12,43.32" fill="#fff" fill-opacity="0.9" stroke="#2ce02c" stroke-width="0.5"/>
<polygon points="335.28,47.65 339.88,47.65 337.58,43.51" fill="#fff" fill-opacity="0.9" stroke="#2ce02c" stroke-width="0.5"/>
<polygon points="338.74,47.83 343.34,47.83 341.04,43.69" fill="#fff" fill-opacity="0.9" stroke="#2ce02c" stroke-width="0.5"/>
<polygon points="342.20,48.01 346.80,48.01 344.50,43.87" fill="#fff" fill-opacity="0.9" stroke="#2ce02c" stroke-width="0.5"/>
<polygon points="345.66,48.18 350.26,48.18 347.96,44.04" fill="#fff" fill-opacity="0.9" stroke="#2ce02c" stroke-width="0.5"/>
<polygon points="349.12,48.34 353.72,48.34 351.42,44.20" fill="#fff" fill-opacity="0.9" stroke="#2ce02c" stroke-width="0.5"/>
<polygon points="352.58,48.50 357.18,48.50 354.88,44.36" fill="#fff" fill-opacity="0.9" stroke="#2ce02c" stroke-width="0.5"/>
<polygon points="356.04,48.65 360.64,48.65 358.34,44.51" fill="#fff" fill-opacity="0.9" stroke="#2ce02c" stroke-width="0.5"/>
<polygon points="359.50,48.80 364.10,48.80 361.80,44.66" fill="#fff" fill-opacity="0.9" stroke="#2ce02c" stroke-width="0.5"/>
<polygon points="362.97,48.94 367.57,48.94 365.27,44.80" fill="#fff" fill-opacity="0.9" stroke="#2ce02c" stroke-width="0.5"/>
<polygon points="366.43,49.08 371.03,49.08 368.73,44.94" fill="#fff" fill-opacity="0.9" stroke="#2ce02c" stroke-width="0.5"/>
<polygon points="369.89,49.21 374.49,49.21 372.19,45.07" fill="#fff" fill-opacity="0.9" stroke="#2ce02c" stroke-width="0.5"/>
<polygon points="373.35,49.33 377.95,49.33 375.65,45.19" fill="#fff" fill-opacity="0.9" stroke="#2ce02c" stroke-width="0.5"/>
<polygon points="376.81,49.45 381.41,49.45 379.11,45.31" fill="#fff" fill-opacity="0.9" stroke="#2ce02c" stroke-width="0.5"/>
<polygon points="380.27,49.55 384.87,49.55 382.57,45.41" fill="#fff" fill-opacity="0.9" stroke="#2ce02c" stroke-width="0.5"/>
<polygon points="383.73,49.63 388.33,49.63 386.03,45.49" fill="#fff" fill-opacity="0.9" stroke="#2ce02c" stroke-width="0.5"/>
<polygon points="387.19,49.70 391.79,49.70 389.49,45.56" fill="#fff" fill-opacity="0.9" stroke="#2ce02c" stroke-width="0.5"/>
<polygon points="390.65,49.76 395.25,49.76 392.95,45.62" fill="#fff" fill-opacity="0.9" stroke="#2ce02c" stroke-width="0.5"/>
<polygon points="394.12,49.85 398.72,49.85 396.42,45.71" fill="#fff" fill-opacity="0.9" stroke="#2ce02c" stroke-width="0.5"/>
<polygon points="397.58,49.98 402.18,49.98 399.88,45.84" fill="#fff" fill-opacity="0.9" stroke="#2ce02c" stroke-width="0.5"/>
<polygon points="401.04,50.20 405.64,50.20 403.34,46.06" fill="#fff" fill-opacity="0.9" stroke="#2ce02c" stroke-width="0.5"/>
<polygon points="404.50,50.82 409.10,50.82 406.80,46.68" fill="#fff" fill-opacity="0.9" stroke="#2ce02c" stroke-width="0.5"/>
<polygon points="407.96,53.84 412.56,53.84 410.26,49.70" fill="#fff" fill-opacity="0.9" stroke="#2ce02c" stroke-width="0.5"/>
<polygon points="411.42,62.97 416.02,62.97 413.72,58.83" fill="#fff" fill-opacity="0.9" stroke="#2ce02c" stroke-width="0.5"/>
<polygon points="414.88,75.06 419.48,75.06 417.18,70.92" fill="#fff" fill-opacity="0.9" stroke="#2ce02c" stroke-width="0.5"/>
<polygon points="418.34,88.49 422.94,88.49 420.64,84.35" fill="#fff" fill-opacity="0.9" stroke="#2ce02c" stroke-width="0.5"/>
<polygon points="421.80,102.23 426.40,102.23 424.10,98.09" fill="#fff" fill-opacity="0.9" stroke="#2ce02c" stroke-width="0.5"/>
<polygon points="425.26,121.87 429.86,121.87 427.56,117.73" fill="#fff" fill-opacity="0.9" stroke="#2ce02c" stroke-width="0.5"/>
<polygon points="428.73,144.31 433.33,144.31 431.03,140.17" fill="#fff" fill-opacity="0.9" stroke="#2ce02c" stroke-width="0.5"/>
<polygon points="432.19,161.37 436.79,161.37 434.49,157.23" fill="#fff" fill-opacity="0.9" stroke="#2ce02c" stroke-width="0.5"/>
<polygon points="434.99,161.74 438.09,161.74 436.54,158.95" fill="#fff" fill-opacity="0.9" stroke="#2ce02c" stroke-width="0.5"/>
<polygon points="437.38,161.74 440.48,161.74 438.93,158.95" fill="#fff" fill-opacity="0.9" stroke="#2ce02c" stroke-width="0.5"/>
<polygon points="439.76,161.74 442.86,161.74 441.31,158.95" fill="#fff" fill-opacity="0.9" stroke="#2ce02c" stroke-width="0.5"/>
<polygon points="442.14,161.74 445.24,161.74 443.69,158.95" fill="#fff" fill-opacity="0.9" stroke="#2ce02c" stroke-width="0.5"/>
<polygon points="444.52,161.74 447.62,161.74 446.07,158.95" fill="#fff" fill-opacity="0.9" stroke="#2ce02c" stroke-width="0.5"/>
<polygon points="446.91,161.74 450.01,161.74 448.46,158.95" fill="#fff" fill-opacity="0.9" stroke="#2ce02c" stroke-width="0.5"/>
<polygon points="449.29,161.74 452.39,161.74 450.84,158.95" fill="#fff" fill-opacity="0.9" stroke="#2ce02c" stroke-width="0.5"/>
<polygon points="451.67,161.74 454.77,161.74 453.22,158.95" fill="#fff" fill-opacity="0.9" stroke="#2ce02c" stroke-width="0.5"/>
<polygon points="454.05,161.74 457.15,161.74 455.60,158.95" fill="#fff" fill-opacity="0.9" stroke="#2ce02c" stroke-width="0.5"/>
<polygon points="456.44,161.74 459.54,161.74 457.99,158.95" fill="#fff" fill-opacity="0.9" stroke="#2ce02c" stroke-width="0.5"/>
<polygon points="458.82,161.74 461.92,161.74 460.37,158.95" fill="#fff" fill-opacity="0.9" stroke="#2ce02c" stroke-width="0.5"/>
<polygon points="461.20,161.74 464.30,161.74 462.75,158.95" fill="#fff" fill-opacity="0.9" stroke="#2ce02c" stroke-width="0.5"/>
<polygon points="463.58,161.74 466.68,161.74 465.13,158.95" fill="#fff" fill-opacity="0.9" stroke="#2ce02c" stroke-width="0.5"/>
<polygon points="465.97,161.74 469.07,161.74 467.52,158.95" fill="#fff" fill-opacity="0.9" stroke="#2ce02c" stroke-width="0.5"/>
<polygon points="468.35,161.74 471.45,161.74 469.90,158.95" fill="#fff" fill-opacity="0.9" stroke="#2ce02c" stroke-width="0.5"/>
<polygon points="470.73,161.74 473.83,161.74 472.28,158.95" fill="#fff" fill-opacity="0.9" stroke="#2ce02c" stroke-width="0.5"/>
<polygon points="473.11,161.74 476.21,161.74 474.66,158.95" fill="#fff" fill-opacity="0.9" stroke="#2ce02c" stroke-width="0.5"/>
<polygon points="475.50,161.74 478.60,161.74 477.05,158.95" fill="#fff" fill-opacity="0.9" stroke="#2ce02c" stroke-width="0.5"/>
<polygon points="477.88,161.74 480.98,161.74 479.43,158.95" fill="#fff" fill-opacity="0.9" stroke="#2ce02c" stroke-width="0.5"/>
<polygon points="480.26,161.74 483.36,161.74 481.81,158.95" fill="#fff" fill-opacity="0.9" stroke="#2ce02c" stroke-width="0.5"/>
<polygon points="482.64,161.74 485.74,161.74 484.19,158.95" fill="#fff" fill-opacity="0.9" stroke="#2ce02c" stroke-width="0.5"/>
<polygon points="485.03,161.74 488.13,161.74 486.58,158.95" fill="#fff" fill-opacity="0.9" stroke="#2ce02c" stroke-width="0.5"/>
<polygon points="487.41,161.74 490.51,161.74 488.96,158.95" fill="#fff" fill-opacity="0.9" stroke="#2ce02c" stroke-width="0.5"/>
<polygon points="489.79,161.74 492.89,161.74 491.34,158.95" fill="#fff" fill-opacity="0.9" stroke="#2ce02c" stroke-width="0.5"/>
<polygon points="492.18,161.74 495.28,161.74 493.73,158.95" fill="#fff" fill-opacity="0.9" stroke="#2ce02c" stroke-width="0.5"/>
<polygon points="494.56,161.74 497.66,161.74 496.11,158.95" fill="#fff" fill-opacity="0.9" stroke="#2ce02c" stroke-width="0.5"/>
<polygon points="496.94,161.74 500.04,161.74 498.49,158.95" fill="#fff" fill-opacity="0.9" stroke="#2ce02c" stroke-width="0.5"/>
<polygon points="499.32,161.74 502.42,161.74 500.87,158.95" fill="#fff" fill-opacity="0.9" stroke="#2ce02c" stroke-width="0.5"/>
<polygon points="501.71,161.74 504.81,161.74 503.26,158.95" fill="#fff" fill-opacity="0.9" stroke="#2ce02c" stroke-width="0.5"/>
<polygon points="504.09,161.74 507.19,161.74 505.64,158.95" fill="#fff" fill-opacity="0.9" stroke="#2ce02c" stroke-width="0.5"/>
<polyline points="309.26,46.62 309.76,46.65 310.25,46.67 310.74,46.70 311.24,46.72 311.73,46.75 312.22,46.77 312.72,46.80 313.21,46.82 313.70,46.85 314.20,46.87 314.69,46.90 315.18,46.92 315.68,46.95 316.17,46.97 316.66,46.99 317.16,47.02 317.65,47.04 318.14,47.07 318.64,47.09 319.13,47.12 319.62,47.14 320.12,47.16 320.61,47.19 321.10,47.21 321.60,47.24 322.09,47.26 322.58,47.28 323.08,47.31 323.57,47.33 324.06,47.35 324.56,47.38 325.05,47.40 325.55,47.42 326.04,47.45 326.53,47.47 327.03,47.49 327.52,47.52 328.01,47.54 328.51,47.56 329.00,47.59 329.49,47.61 329.99,47.63 330.48,47.65 330.97,47.68 331.47,47.70 331.96,47.72 332.45,47.74 332.95,47.77 333.44,47.79 333.93,47.81 334.43,47.83 334.92,47.85 335.41,47.88 335.91,47.90 336.40,47.92 336.89,47.94 337.39,47.96 337.88,47.98 338.37,48.01 338.87,48.03 339.36,48.05 339.85,48.07 340.35,48.09 340.84,48.11 341.33,48.13 341.83,48.15 342.32,48.17 342.82,48.20 343.31,48.22 343.80,48.24 344.30,48.26 344.79,48.28 345.28,48.30 345.78,48.32 346.27,48.34 346.76,48.36 347.26,48.38 347.75,48.40 348.24,48.42 348.74,48.44 349.23,48.46 349.72,48.47 350.22,48.49 350.71,48.51 351.20,48.53 351.70,48.55 352.19,48.57 352.68,48.59 353.18,48.61 353.67,48.63 354.16,48.64 354.66,48.66 355.15,48.68 355.64,48.70 356.14,48.72 356.63,48.74 357.12,48.75 357.62,48.77 358.11,48.79 358.60,48.81 359.10,48.83 359.59,48.84 360.09,48.86 360.58,48.88 361.07,48.90 361.57,48.91 362.06,48.93 362.55,48.95 363.05,48.97 363.54,48.98 364.03,49.00 364.53,49.02 365.02,49.04 365.51,49.05 366.01,49.07 366.50,49.09 366.99,49.10 367.49,49.12 367.98,49.14 368.47,49.16 368.97,49.17 369.46,49.19 369.95,49.21 370.45,49.22 370.94,49.24 371.43,49.26 371.93,49.27 372.42,49.29 372.91,49.31 373.41,49.32 373.90,49.34 374.39,49.35 374.89,49.37 375.38,49.39 375.87,49.40 376.37,49.42 376.86,49.43 377.36,49.45 377.85,49.47 378.34,49.48 378.84,49.50 379.33,49.51 379.82,49.53 380.32,49.54 380.81,49.56 381.30,49.58 381.80,49.59 382.29,49.61 382.78,49.62 383.28,49.64 383.77,49.65 384.26,49.67 384.76,49.68 385.25,49.70 385.74,49.71 386.24,49.73 386.73,49.74 387.22,49.76 387.72,49.77 388.21,49.79 388.70,49.80 389.20,49.81 389.69,49.83 390.18,49.84 390.68,49.86 391.17,49.87 391.66,49.89 392.16,49.90 392.65,49.91 393.14,49.93 393.64,49.94 394.13,49.95 394.63,49.97 395.12,49.98 395.61,50.00 396.11,50.01 396.60,50.02 397.09,50.04 397.59,50.05 398.08,50.06 398.57,50.08 399.07,50.09 399.56,50.10 400.05,50.11 400.55,50.13 401.04,50.14 401.53,50.15 402.03,50.17 402.52,50.18 403.01,50.19 403.51,50.20 404.00,50.22 404.49,50.23 404.99,50.24 405.48,50.25 405.97,50.26 406.47,50.28 406.96,50.29 407.45,50.30 407.95,50.31 408.44,50.32 408.93,50.33 409.43,50.34 409.92,50.34 410.41,50.35 410.91,50.36 411.40,50.37 411.90,50.38 412.39,50.38 412.88,50.39 413.38,50.40 413.87,50.41 414.36,50.41 414.86,50.42 415.35,50.43 415.84,50.43 416.34,50.44 416.83,50.45 417.32,50.45 417.82,50.46 418.31,50.47 418.80,50.48 419.30,50.48 419.79,50.49 420.28,50.50 420.78,50.51 421.27,50.52 421.76,50.52 422.26,50.53 422.75,50.54 423.24,50.55 423.74,50.56 424.23,50.58 424.72,50.59 425.22,50.60 425.71,50.61 426.20,50.62 426.70,50.64 427.19,50.65 427.68,50.67 428.18,50.68 428.67,50.70 429.17,50.71 429.66,50.73 430.15,50.75 430.65,50.77 431.14,50.79 431.63,50.82 432.13,50.85 432.62,50.89 433.11,50.93 433.61,50.98 434.10,51.04 434.59,51.10 435.09,51.17 435.58,51.25" fill="none" stroke="#1c1cc8" stroke-width="1.6" stroke-opacity="0.45" stroke-linejoin="round"/>
<polyline points="435.58,51.25 436.07,51.33 436.57,51.43 437.06,51.56 437.55,51.72 438.05,51.90 438.54,52.11 439.03,52.33 439.53,52.61 440.02,52.95 440.51,53.37 441.01,53.84 441.50,54.36 441.99,54.97 442.49,55.72 442.98,56.57 443.47,57.47 443.97,58.40 444.46,59.30 444.95,60.20 445.45,61.19 445.94,62.32 446.44,63.71 446.93,65.50 447.42,67.62 447.92,69.95 448.41,72.39 448.90,74.81 449.40,77.13 449.89,79.41 450.38,81.72 450.88,84.08 451.37,86.49 451.86,88.98 452.36,91.56 452.85,94.31 453.34,97.21 453.84,100.18 454.33,103.12 454.82,106.00 455.32,108.87 455.81,111.73 456.30,114.59 456.80,117.45 457.29,120.30 457.78,123.15 458.28,126.01 458.77,128.86 459.26,131.73 459.76,134.61 460.25,137.49 460.74,140.38 461.24,143.26 461.73,146.11 462.22,148.92 462.72,151.94 463.21,154.98 463.71,157.23 464.20,158.62 464.69,159.77 465.19,160.43 465.68,160.50 466.17,160.50 466.67,160.50 467.16,160.50 467.65,160.50 468.15,160.50 468.64,160.50 469.13,160.50 469.63,160.50 470.12,160.50 470.61,160.50 471.11,160.50 471.60,160.50 472.09,160.50 472.59,160.50 473.08,160.50 473.57,160.50 474.07,160.50 474.56,160.50 475.05,160.50 475.55,160.50 476.04,160.50 476.53,160.50 477.03,160.50 477.52,160.50 478.01,160.50 478.51,160.50 479.00,160.50 479.49,160.50 479.99,160.50 480.48,160.50 480.98,160.50 481.47,160.50 481.96,160.50 482.46,160.50 482.95,160.50 483.44,160.50 483.94,160.50 484.43,160.50 484.92,160.50 485.42,160.50 485.91,160.50 486.40,160.50 486.90,160.50 487.39,160.50 487.88,160.50 488.38,160.50 488.87,160.50 489.36,160.50 489.86,160.50 490.35,160.50 490.84,160.50 491.34,160.50 491.83,160.50 492.32,160.50 492.82,160.50 493.31,160.50 493.80,160.50 494.30,160.50 494.79,160.50 495.28,160.50 495.78,160.50 496.27,160.50 496.76,160.50 497.26,160.50 497.75,160.50 498.25,160.50 498.74,160.50 499.23,160.50 499.73,160.50 500.22,160.50 500.71,160.50 501.21,160.50 501.70,160.50 502.19,160.50 502.69,160.50 503.18,160.50 503.67,160.50 504.17,160.50 504.66,160.50 505.15,160.50 505.65,160.50 506.14,160.50" fill="none" stroke="#1c1cc8" stroke-width="1.7" stroke-linejoin="round"/>
<polygon points="307.59,44.81 312.19,44.81 309.89,48.95" fill="#fff" fill-opacity="0.9" stroke="#1c1cc8" stroke-width="0.5"/>
<polygon points="311.05,44.99 315.65,44.99 313.35,49.13" fill="#fff" fill-opacity="0.9" stroke="#1c1cc8" stroke-width="0.5"/>
<polygon points="314.51,45.16 319.11,45.16 316.81,49.30" fill="#fff" fill-opacity="0.9" stroke="#1c1cc8" stroke-width="0.5"/>
<polygon points="317.97,45.33 322.57,45.33 320.27,49.47" fill="#fff" fill-opacity="0.9" stroke="#1c1cc8" stroke-width="0.5"/>
<polygon points="321.43,45.50 326.03,45.50 323.73,49.64" fill="#fff" fill-opacity="0.9" stroke="#1c1cc8" stroke-width="0.5"/>
<polygon points="324.89,45.66 329.49,45.66 327.19,49.80" fill="#fff" fill-opacity="0.9" stroke="#1c1cc8" stroke-width="0.5"/>
<polygon points="328.36,45.82 332.96,45.82 330.66,49.96" fill="#fff" fill-opacity="0.9" stroke="#1c1cc8" stroke-width="0.5"/>
<polygon points="331.82,45.98 336.42,45.98 334.12,50.12" fill="#fff" fill-opacity="0.9" stroke="#1c1cc8" stroke-width="0.5"/>
<polygon points="335.28,46.13 339.88,46.13 337.58,50.27" fill="#fff" fill-opacity="0.9" stroke="#1c1cc8" stroke-width="0.5"/>
<polygon points="338.74,46.28 343.34,46.28 341.04,50.42" fill="#fff" fill-opacity="0.9" stroke="#1c1cc8" stroke-width="0.5"/>
<polygon points="342.20,46.42 346.80,46.42 344.50,50.56" fill="#fff" fill-opacity="0.9" stroke="#1c1cc8" stroke-width="0.5"/>
<polygon points="345.66,46.56 350.26,46.56 347.96,50.70" fill="#fff" fill-opacity="0.9" stroke="#1c1cc8" stroke-width="0.5"/>
<polygon points="349.12,46.70 353.72,46.70 351.42,50.84" fill="#fff" fill-opacity="0.9" stroke="#1c1cc8" stroke-width="0.5"/>
<polygon points="352.58,46.83 357.18,46.83 354.88,50.97" fill="#fff" fill-opacity="0.9" stroke="#1c1cc8" stroke-width="0.5"/>
<polygon points="356.04,46.96 360.64,46.96 358.34,51.10" fill="#fff" fill-opacity="0.9" stroke="#1c1cc8" stroke-width="0.5"/>
<polygon points="359.50,47.08 364.10,47.08 361.80,51.22" fill="#fff" fill-opacity="0.9" stroke="#1c1cc8" stroke-width="0.5"/>
<polygon points="362.97,47.20 367.57,47.20 365.27,51.34" fill="#fff" fill-opacity="0.9" stroke="#1c1cc8" stroke-width="0.5"/>
<polygon points="366.43,47.32 371.03,47.32 368.73,51.46" fill="#fff" fill-opacity="0.9" stroke="#1c1cc8" stroke-width="0.5"/>
<polygon points="369.89,47.44 374.49,47.44 372.19,51.58" fill="#fff" fill-opacity="0.9" stroke="#1c1cc8" stroke-width="0.5"/>
<polygon points="373.35,47.56 377.95,47.56 375.65,51.70" fill="#fff" fill-opacity="0.9" stroke="#1c1cc8" stroke-width="0.5"/>
<polygon points="376.81,47.67 381.41,47.67 379.11,51.81" fill="#fff" fill-opacity="0.9" stroke="#1c1cc8" stroke-width="0.5"/>
<polygon points="380.27,47.78 384.87,47.78 382.57,51.92" fill="#fff" fill-opacity="0.9" stroke="#1c1cc8" stroke-width="0.5"/>
<polygon points="383.73,47.88 388.33,47.88 386.03,52.02" fill="#fff" fill-opacity="0.9" stroke="#1c1cc8" stroke-width="0.5"/>
<polygon points="387.19,47.98 391.79,47.98 389.49,52.12" fill="#fff" fill-opacity="0.9" stroke="#1c1cc8" stroke-width="0.5"/>
<polygon points="390.65,48.08 395.25,48.08 392.95,52.22" fill="#fff" fill-opacity="0.9" stroke="#1c1cc8" stroke-width="0.5"/>
<polygon points="394.12,48.18 398.72,48.18 396.42,52.32" fill="#fff" fill-opacity="0.9" stroke="#1c1cc8" stroke-width="0.5"/>
<polygon points="397.58,48.27 402.18,48.27 399.88,52.41" fill="#fff" fill-opacity="0.9" stroke="#1c1cc8" stroke-width="0.5"/>
<polygon points="401.04,48.36 405.64,48.36 403.34,52.50" fill="#fff" fill-opacity="0.9" stroke="#1c1cc8" stroke-width="0.5"/>
<polygon points="404.50,48.44 409.10,48.44 406.80,52.58" fill="#fff" fill-opacity="0.9" stroke="#1c1cc8" stroke-width="0.5"/>
<polygon points="407.96,48.51 412.56,48.51 410.26,52.65" fill="#fff" fill-opacity="0.9" stroke="#1c1cc8" stroke-width="0.5"/>
<polygon points="411.42,48.56 416.02,48.56 413.72,52.70" fill="#fff" fill-opacity="0.9" stroke="#1c1cc8" stroke-width="0.5"/>
<polygon points="414.88,48.61 419.48,48.61 417.18,52.75" fill="#fff" fill-opacity="0.9" stroke="#1c1cc8" stroke-width="0.5"/>
<polygon points="418.34,48.67 422.94,48.67 420.64,52.81" fill="#fff" fill-opacity="0.9" stroke="#1c1cc8" stroke-width="0.5"/>
<polygon points="421.80,48.73 426.40,48.73 424.10,52.87" fill="#fff" fill-opacity="0.9" stroke="#1c1cc8" stroke-width="0.5"/>
<polygon points="425.26,48.82 429.86,48.82 427.56,52.96" fill="#fff" fill-opacity="0.9" stroke="#1c1cc8" stroke-width="0.5"/>
<polygon points="428.73,48.95 433.33,48.95 431.03,53.09" fill="#fff" fill-opacity="0.9" stroke="#1c1cc8" stroke-width="0.5"/>
<polygon points="432.19,49.25 436.79,49.25 434.49,53.39" fill="#fff" fill-opacity="0.9" stroke="#1c1cc8" stroke-width="0.5"/>
<polygon points="435.65,50.02 440.25,50.02 437.95,54.16" fill="#fff" fill-opacity="0.9" stroke="#1c1cc8" stroke-width="0.5"/>
<polygon points="439.11,52.42 443.71,52.42 441.41,56.56" fill="#fff" fill-opacity="0.9" stroke="#1c1cc8" stroke-width="0.5"/>
<polygon points="442.57,58.20 447.17,58.20 444.87,62.34" fill="#fff" fill-opacity="0.9" stroke="#1c1cc8" stroke-width="0.5"/>
<polygon points="446.03,70.16 450.63,70.16 448.33,74.30" fill="#fff" fill-opacity="0.9" stroke="#1c1cc8" stroke-width="0.5"/>
<polygon points="449.49,86.77 454.09,86.77 451.79,90.91" fill="#fff" fill-opacity="0.9" stroke="#1c1cc8" stroke-width="0.5"/>
<polygon points="452.95,106.66 457.55,106.66 455.25,110.80" fill="#fff" fill-opacity="0.9" stroke="#1c1cc8" stroke-width="0.5"/>
<polygon points="456.41,126.69 461.01,126.69 458.71,130.83" fill="#fff" fill-opacity="0.9" stroke="#1c1cc8" stroke-width="0.5"/>
<polygon points="459.87,146.79 464.47,146.79 462.17,150.93" fill="#fff" fill-opacity="0.9" stroke="#1c1cc8" stroke-width="0.5"/>
<polygon points="465.09,159.26 468.19,159.26 466.64,162.05" fill="#fff" fill-opacity="0.9" stroke="#1c1cc8" stroke-width="0.5"/>
<polygon points="467.47,159.26 470.57,159.26 469.02,162.05" fill="#fff" fill-opacity="0.9" stroke="#1c1cc8" stroke-width="0.5"/>
<polygon points="469.85,159.26 472.95,159.26 471.40,162.05" fill="#fff" fill-opacity="0.9" stroke="#1c1cc8" stroke-width="0.5"/>
<polygon points="472.24,159.26 475.34,159.26 473.79,162.05" fill="#fff" fill-opacity="0.9" stroke="#1c1cc8" stroke-width="0.5"/>
<polygon points="474.62,159.26 477.72,159.26 476.17,162.05" fill="#fff" fill-opacity="0.9" stroke="#1c1cc8" stroke-width="0.5"/>
<polygon points="477.00,159.26 480.10,159.26 478.55,162.05" fill="#fff" fill-opacity="0.9" stroke="#1c1cc8" stroke-width="0.5"/>
<polygon points="479.38,159.26 482.48,159.26 480.93,162.05" fill="#fff" fill-opacity="0.9" stroke="#1c1cc8" stroke-width="0.5"/>
<polygon points="481.77,159.26 484.87,159.26 483.32,162.05" fill="#fff" fill-opacity="0.9" stroke="#1c1cc8" stroke-width="0.5"/>
<polygon points="484.15,159.26 487.25,159.26 485.70,162.05" fill="#fff" fill-opacity="0.9" stroke="#1c1cc8" stroke-width="0.5"/>
<polygon points="486.53,159.26 489.63,159.26 488.08,162.05" fill="#fff" fill-opacity="0.9" stroke="#1c1cc8" stroke-width="0.5"/>
<polygon points="488.91,159.26 492.01,159.26 490.46,162.05" fill="#fff" fill-opacity="0.9" stroke="#1c1cc8" stroke-width="0.5"/>
<polygon points="491.30,159.26 494.40,159.26 492.85,162.05" fill="#fff" fill-opacity="0.9" stroke="#1c1cc8" stroke-width="0.5"/>
<polygon points="493.68,159.26 496.78,159.26 495.23,162.05" fill="#fff" fill-opacity="0.9" stroke="#1c1cc8" stroke-width="0.5"/>
<polygon points="496.06,159.26 499.16,159.26 497.61,162.05" fill="#fff" fill-opacity="0.9" stroke="#1c1cc8" stroke-width="0.5"/>
<polygon points="498.45,159.26 501.55,159.26 500.00,162.05" fill="#fff" fill-opacity="0.9" stroke="#1c1cc8" stroke-width="0.5"/>
<polygon points="500.83,159.26 503.93,159.26 502.38,162.05" fill="#fff" fill-opacity="0.9" stroke="#1c1cc8" stroke-width="0.5"/>
<polygon points="503.21,159.26 506.31,159.26 504.76,162.05" fill="#fff" fill-opacity="0.9" stroke="#1c1cc8" stroke-width="0.5"/>
<polyline points="309.26,49.22 309.76,49.24 310.25,49.27 310.74,49.29 311.24,49.32 311.73,49.34 312.22,49.36 312.72,49.39 313.21,49.41 313.70,49.43 314.20,49.46 314.69,49.48 315.18,49.50 315.68,49.53 316.17,49.55 316.66,49.57 317.16,49.60 317.65,49.62 318.14,49.64 318.64,49.66 319.13,49.69 319.62,49.71 320.12,49.73 320.61,49.76 321.10,49.78 321.60,49.80 322.09,49.82 322.58,49.85 323.08,49.87 323.57,49.89 324.06,49.91 324.56,49.93 325.05,49.96 325.55,49.98 326.04,50.00 326.53,50.02 327.03,50.04 327.52,50.06 328.01,50.08 328.51,50.11 329.00,50.13 329.49,50.15 329.99,50.17 330.48,50.19 330.97,50.21 331.47,50.23 331.96,50.25 332.45,50.27 332.95,50.29 333.44,50.31 333.93,50.33 334.43,50.35 334.92,50.37 335.41,50.39 335.91,50.41 336.40,50.43 336.89,50.45 337.39,50.47 337.88,50.48 338.37,50.50 338.87,50.52 339.36,50.54 339.85,50.56 340.35,50.58 340.84,50.59 341.33,50.61 341.83,50.63 342.32,50.65 342.82,50.66 343.31,50.68 343.80,50.70 344.30,50.72 344.79,50.73 345.28,50.75 345.78,50.77 346.27,50.78 346.76,50.80 347.26,50.81 347.75,50.83 348.24,50.84 348.74,50.86 349.23,50.87 349.72,50.89 350.22,50.90 350.71,50.92 351.20,50.93 351.70,50.95 352.19,50.96 352.68,50.98 353.18,50.99 353.67,51.00 354.16,51.02 354.66,51.03 355.15,51.04 355.64,51.05 356.14,51.07 356.63,51.08 357.12,51.09 357.62,51.10 358.11,51.11 358.60,51.12 359.10,51.14 359.59,51.15 360.09,51.16 360.58,51.17 361.07,51.18 361.57,51.19 362.06,51.20 362.55,51.21 363.05,51.22 363.54,51.23 364.03,51.23 364.53,51.24 365.02,51.25 365.51,51.26 366.01,51.27 366.50,51.28 366.99,51.28 367.49,51.29 367.98,51.30 368.47,51.30 368.97,51.31 369.46,51.32 369.95,51.32 370.45,51.33 370.94,51.34 371.43,51.34 371.93,51.35 372.42,51.36 372.91,51.36 373.41,51.37 373.90,51.38 374.39,51.38 374.89,51.39 375.38,51.40 375.87,51.40 376.37,51.41 376.86,51.41 377.36,51.42 377.85,51.43 378.34,51.43 378.84,51.44 379.33,51.45 379.82,51.45 380.32,51.46 380.81,51.46 381.30,51.47 381.80,51.48 382.29,51.48 382.78,51.49 383.28,51.49 383.77,51.50 384.26,51.51 384.76,51.51 385.25,51.52 385.74,51.52 386.24,51.53 386.73,51.53 387.22,51.54 387.72,51.54 388.21,51.55 388.70,51.56 389.20,51.56 389.69,51.57 390.18,51.57 390.68,51.58 391.17,51.58 391.66,51.59 392.16,51.59 392.65,51.60 393.14,51.60 393.64,51.61 394.13,51.61 394.63,51.62 395.12,51.62 395.61,51.63 396.11,51.63 396.60,51.64 397.09,51.64 397.59,51.65 398.08,51.65 398.57,51.66 399.07,51.66 399.56,51.67 400.05,51.67 400.55,51.67 401.04,51.68 401.53,51.68 402.03,51.69 402.52,51.69 403.01,51.70 403.51,51.70 404.00,51.70 404.49,51.71 404.99,51.71 405.48,51.72 405.97,51.72 406.47,51.72 406.96,51.73 407.45,51.73 407.95,51.73 408.44,51.74 408.93,51.74 409.43,51.74 409.92,51.75 410.41,51.75 410.91,51.75 411.40,51.76 411.90,51.76 412.39,51.76 412.88,51.77 413.38,51.77 413.87,51.77 414.36,51.77 414.86,51.78 415.35,51.78 415.84,51.78 416.34,51.78 416.83,51.79 417.32,51.79 417.82,51.79 418.31,51.79 418.80,51.79 419.30,51.80 419.79,51.80 420.28,51.80 420.78,51.80 421.27,51.80 421.76,51.81 422.26,51.81 422.75,51.81 423.24,51.81 423.74,51.81 424.23,51.81 424.72,51.81 425.22,51.81 425.71,51.82 426.20,51.82 426.70,51.82 427.19,51.82 427.68,51.82 428.18,51.82 428.67,51.82 429.17,51.82 429.66,51.82 430.15,51.82 430.65,51.82 431.14,51.82 431.63,51.82 432.13,51.82 432.62,51.82 433.11,51.82 433.61,51.82 434.10,51.82 434.59,51.82 435.09,51.82 435.58,51.82 436.07,51.82 436.57,51.82 437.06,51.82 437.55,51.82 438.05,51.82 438.54,51.82 439.03,51.82 439.53,51.82 440.02,51.82 440.51,51.82 441.01,51.82 441.50,51.82 441.99,51.82 442.49,51.82 442.98,51.82 443.47,51.82 443.97,51.82 444.46,51.82 444.95,51.82 445.45,51.82 445.94,51.82 446.44,51.82 446.93,51.82 447.42,51.82 447.92,51.82 448.41,51.82 448.90,51.82 449.40,51.82 449.89,51.82 450.38,51.82 450.88,51.82 451.37,51.82 451.86,51.82 452.36,51.82 452.85,51.82 453.34,51.82 453.84,51.82 454.33,51.82 454.82,51.82 455.32,51.82 455.81,51.82 456.30,51.82 456.80,51.82 457.29,51.82 457.78,51.82 458.28,51.82 458.77,51.82 459.26,51.82 459.76,51.82 460.25,51.82 460.74,51.82 461.24,51.82 461.73,51.85 462.22,51.91" fill="none" stroke="#20e4e4" stroke-width="1.6" stroke-opacity="0.45" stroke-linejoin="round"/>
<polyline points="461.73,51.85 462.22,51.91 462.72,51.99 463.21,52.10 463.71,52.22 464.20,52.36 464.69,52.63 465.19,53.05 465.68,53.58 466.17,54.16 466.67,54.78 467.16,55.54 467.65,56.41 468.15,57.35 468.64,58.32 469.13,59.28 469.63,60.25 470.12,61.30 470.61,62.54 471.11,64.06 471.60,65.99 472.09,68.22 472.59,70.67 473.08,73.23 473.57,75.81 474.07,78.38 474.56,81.08 475.05,83.89 475.55,86.83 476.04,89.88 476.53,93.08 477.03,96.59 477.52,100.21 478.01,103.73 478.51,107.08 479.00,110.38 479.49,113.64 479.99,116.87 480.48,120.05 480.98,123.21 481.47,126.34 481.96,129.44 482.46,132.52 482.95,135.55 483.44,138.53 483.94,141.49 484.43,144.44 484.92,147.40 485.42,150.45 485.91,153.84 486.40,156.69 486.90,158.42 487.39,159.80 487.88,160.49 488.38,160.50 488.87,160.50 489.36,160.50 489.86,160.50 490.35,160.50 490.84,160.50 491.34,160.50 491.83,160.50 492.32,160.50 492.82,160.50 493.31,160.50 493.80,160.50 494.30,160.50 494.79,160.50 495.28,160.50 495.78,160.50 496.27,160.50 496.76,160.50 497.26,160.50 497.75,160.50 498.25,160.50 498.74,160.50 499.23,160.50 499.73,160.50 500.22,160.50 500.71,160.50 501.21,160.50 501.70,160.50 502.19,160.50 502.69,160.50 503.18,160.50 503.67,160.50 504.17,160.50 504.66,160.50 505.15,160.50 505.65,160.50 506.14,160.50" fill="none" stroke="#20e4e4" stroke-width="1.7" stroke-linejoin="round"/>
<polygon points="307.59,49.25 309.89,46.72 312.19,49.25 309.89,51.78" fill="#fff" fill-opacity="0.9" stroke="#20e4e4" stroke-width="0.5"/>
<polygon points="311.05,49.42 313.35,46.89 315.65,49.42 313.35,51.95" fill="#fff" fill-opacity="0.9" stroke="#20e4e4" stroke-width="0.5"/>
<polygon points="314.51,49.58 316.81,47.05 319.11,49.58 316.81,52.11" fill="#fff" fill-opacity="0.9" stroke="#20e4e4" stroke-width="0.5"/>
<polygon points="317.97,49.74 320.27,47.21 322.57,49.74 320.27,52.27" fill="#fff" fill-opacity="0.9" stroke="#20e4e4" stroke-width="0.5"/>
<polygon points="321.43,49.90 323.73,47.37 326.03,49.90 323.73,52.43" fill="#fff" fill-opacity="0.9" stroke="#20e4e4" stroke-width="0.5"/>
<polygon points="324.89,50.05 327.19,47.52 329.49,50.05 327.19,52.58" fill="#fff" fill-opacity="0.9" stroke="#20e4e4" stroke-width="0.5"/>
<polygon points="328.36,50.20 330.66,47.67 332.96,50.20 330.66,52.73" fill="#fff" fill-opacity="0.9" stroke="#20e4e4" stroke-width="0.5"/>
<polygon points="331.82,50.34 334.12,47.81 336.42,50.34 334.12,52.87" fill="#fff" fill-opacity="0.9" stroke="#20e4e4" stroke-width="0.5"/>
<polygon points="335.28,50.47 337.58,47.94 339.88,50.47 337.58,53.00" fill="#fff" fill-opacity="0.9" stroke="#20e4e4" stroke-width="0.5"/>
<polygon points="338.74,50.60 341.04,48.07 343.34,50.60 341.04,53.13" fill="#fff" fill-opacity="0.9" stroke="#20e4e4" stroke-width="0.5"/>
<polygon points="342.20,50.72 344.50,48.19 346.80,50.72 344.50,53.25" fill="#fff" fill-opacity="0.9" stroke="#20e4e4" stroke-width="0.5"/>
<polygon points="345.66,50.84 347.96,48.31 350.26,50.84 347.96,53.37" fill="#fff" fill-opacity="0.9" stroke="#20e4e4" stroke-width="0.5"/>
<polygon points="349.12,50.94 351.42,48.41 353.72,50.94 351.42,53.47" fill="#fff" fill-opacity="0.9" stroke="#20e4e4" stroke-width="0.5"/>
<polygon points="352.58,51.03 354.88,48.50 357.18,51.03 354.88,53.56" fill="#fff" fill-opacity="0.9" stroke="#20e4e4" stroke-width="0.5"/>
<polygon points="356.04,51.12 358.34,48.59 360.64,51.12 358.34,53.65" fill="#fff" fill-opacity="0.9" stroke="#20e4e4" stroke-width="0.5"/>
<polygon points="359.50,51.19 361.80,48.66 364.10,51.19 361.80,53.72" fill="#fff" fill-opacity="0.9" stroke="#20e4e4" stroke-width="0.5"/>
<polygon points="362.97,51.26 365.27,48.73 367.57,51.26 365.27,53.79" fill="#fff" fill-opacity="0.9" stroke="#20e4e4" stroke-width="0.5"/>
<polygon points="366.43,51.31 368.73,48.78 371.03,51.31 368.73,53.84" fill="#fff" fill-opacity="0.9" stroke="#20e4e4" stroke-width="0.5"/>
<polygon points="369.89,51.35 372.19,48.82 374.49,51.35 372.19,53.88" fill="#fff" fill-opacity="0.9" stroke="#20e4e4" stroke-width="0.5"/>
<polygon points="373.35,51.40 375.65,48.87 377.95,51.40 375.65,53.93" fill="#fff" fill-opacity="0.9" stroke="#20e4e4" stroke-width="0.5"/>
<polygon points="376.81,51.44 379.11,48.91 381.41,51.44 379.11,53.97" fill="#fff" fill-opacity="0.9" stroke="#20e4e4" stroke-width="0.5"/>
<polygon points="380.27,51.48 382.57,48.95 384.87,51.48 382.57,54.01" fill="#fff" fill-opacity="0.9" stroke="#20e4e4" stroke-width="0.5"/>
<polygon points="383.73,51.53 386.03,49.00 388.33,51.53 386.03,54.06" fill="#fff" fill-opacity="0.9" stroke="#20e4e4" stroke-width="0.5"/>
<polygon points="387.19,51.56 389.49,49.03 391.79,51.56 389.49,54.09" fill="#fff" fill-opacity="0.9" stroke="#20e4e4" stroke-width="0.5"/>
<polygon points="390.65,51.60 392.95,49.07 395.25,51.60 392.95,54.13" fill="#fff" fill-opacity="0.9" stroke="#20e4e4" stroke-width="0.5"/>
<polygon points="394.12,51.64 396.42,49.11 398.72,51.64 396.42,54.17" fill="#fff" fill-opacity="0.9" stroke="#20e4e4" stroke-width="0.5"/>
<polygon points="397.58,51.67 399.88,49.14 402.18,51.67 399.88,54.20" fill="#fff" fill-opacity="0.9" stroke="#20e4e4" stroke-width="0.5"/>
<polygon points="401.04,51.70 403.34,49.17 405.64,51.70 403.34,54.23" fill="#fff" fill-opacity="0.9" stroke="#20e4e4" stroke-width="0.5"/>
<polygon points="404.50,51.73 406.80,49.20 409.10,51.73 406.80,54.26" fill="#fff" fill-opacity="0.9" stroke="#20e4e4" stroke-width="0.5"/>
<polygon points="407.96,51.75 410.26,49.22 412.56,51.75 410.26,54.28" fill="#fff" fill-opacity="0.9" stroke="#20e4e4" stroke-width="0.5"/>
<polygon points="411.42,51.77 413.72,49.24 416.02,51.77 413.72,54.30" fill="#fff" fill-opacity="0.9" stroke="#20e4e4" stroke-width="0.5"/>
<polygon points="414.88,51.79 417.18,49.26 419.48,51.79 417.18,54.32" fill="#fff" fill-opacity="0.9" stroke="#20e4e4" stroke-width="0.5"/>
<polygon points="418.34,51.80 420.64,49.27 422.94,51.80 420.64,54.33" fill="#fff" fill-opacity="0.9" stroke="#20e4e4" stroke-width="0.5"/>
<polygon points="421.80,51.81 424.10,49.28 426.40,51.81 424.10,54.34" fill="#fff" fill-opacity="0.9" stroke="#20e4e4" stroke-width="0.5"/>
<polygon points="425.26,51.82 427.56,49.29 429.86,51.82 427.56,54.35" fill="#fff" fill-opacity="0.9" stroke="#20e4e4" stroke-width="0.5"/>
<polygon points="428.73,51.82 431.03,49.29 433.33,51.82 431.03,54.35" fill="#fff" fill-opacity="0.9" stroke="#20e4e4" stroke-width="0.5"/>
<polygon points="432.19,51.82 434.49,49.29 436.79,51.82 434.49,54.35" fill="#fff" fill-opacity="0.9" stroke="#20e4e4" stroke-width="0.5"/>
<polygon points="435.65,51.82 437.95,49.29 440.25,51.82 437.95,54.35" fill="#fff" fill-opacity="0.9" stroke="#20e4e4" stroke-width="0.5"/>
<polygon points="439.11,51.82 441.41,49.29 443.71,51.82 441.41,54.35" fill="#fff" fill-opacity="0.9" stroke="#20e4e4" stroke-width="0.5"/>
<polygon points="442.57,51.82 444.87,49.29 447.17,51.82 444.87,54.35" fill="#fff" fill-opacity="0.9" stroke="#20e4e4" stroke-width="0.5"/>
<polygon points="446.03,51.82 448.33,49.29 450.63,51.82 448.33,54.35" fill="#fff" fill-opacity="0.9" stroke="#20e4e4" stroke-width="0.5"/>
<polygon points="449.49,51.82 451.79,49.29 454.09,51.82 451.79,54.35" fill="#fff" fill-opacity="0.9" stroke="#20e4e4" stroke-width="0.5"/>
<polygon points="452.95,51.82 455.25,49.29 457.55,51.82 455.25,54.35" fill="#fff" fill-opacity="0.9" stroke="#20e4e4" stroke-width="0.5"/>
<polygon points="456.41,51.82 458.71,49.29 461.01,51.82 458.71,54.35" fill="#fff" fill-opacity="0.9" stroke="#20e4e4" stroke-width="0.5"/>
<polygon points="459.87,51.90 462.17,49.37 464.47,51.90 462.17,54.43" fill="#fff" fill-opacity="0.9" stroke="#20e4e4" stroke-width="0.5"/>
<polygon points="463.34,53.53 465.64,51.00 467.94,53.53 465.64,56.06" fill="#fff" fill-opacity="0.9" stroke="#20e4e4" stroke-width="0.5"/>
<polygon points="466.80,59.21 469.10,56.68 471.40,59.21 469.10,61.74" fill="#fff" fill-opacity="0.9" stroke="#20e4e4" stroke-width="0.5"/>
<polygon points="470.26,70.52 472.56,67.99 474.86,70.52 472.56,73.05" fill="#fff" fill-opacity="0.9" stroke="#20e4e4" stroke-width="0.5"/>
<polygon points="473.72,89.74 476.02,87.21 478.32,89.74 476.02,92.27" fill="#fff" fill-opacity="0.9" stroke="#20e4e4" stroke-width="0.5"/>
<polygon points="477.18,113.55 479.48,111.02 481.78,113.55 479.48,116.08" fill="#fff" fill-opacity="0.9" stroke="#20e4e4" stroke-width="0.5"/>
<polygon points="480.64,135.50 482.94,132.97 485.24,135.50 482.94,138.03" fill="#fff" fill-opacity="0.9" stroke="#20e4e4" stroke-width="0.5"/>
<polygon points="484.10,156.69 486.40,154.16 488.70,156.69 486.40,159.22" fill="#fff" fill-opacity="0.9" stroke="#20e4e4" stroke-width="0.5"/>
<polygon points="487.66,160.50 489.21,158.79 490.76,160.50 489.21,162.21" fill="#fff" fill-opacity="0.9" stroke="#20e4e4" stroke-width="0.5"/>
<polygon points="490.04,160.50 491.59,158.79 493.14,160.50 491.59,162.21" fill="#fff" fill-opacity="0.9" stroke="#20e4e4" stroke-width="0.5"/>
<polygon points="492.43,160.50 493.98,158.79 495.53,160.50 493.98,162.21" fill="#fff" fill-opacity="0.9" stroke="#20e4e4" stroke-width="0.5"/>
<polygon points="494.81,160.50 496.36,158.79 497.91,160.50 496.36,162.21" fill="#fff" fill-opacity="0.9" stroke="#20e4e4" stroke-width="0.5"/>
<polygon points="497.19,160.50 498.74,158.79 500.29,160.50 498.74,162.21" fill="#fff" fill-opacity="0.9" stroke="#20e4e4" stroke-width="0.5"/>
<polygon points="499.57,160.50 501.12,158.79 502.67,160.50 501.12,162.21" fill="#fff" fill-opacity="0.9" stroke="#20e4e4" stroke-width="0.5"/>
<polygon points="501.96,160.50 503.51,158.79 505.06,160.50 503.51,162.21" fill="#fff" fill-opacity="0.9" stroke="#20e4e4" stroke-width="0.5"/>
<polygon points="504.34,160.50 505.89,158.79 507.44,160.50 505.89,162.21" fill="#fff" fill-opacity="0.9" stroke="#20e4e4" stroke-width="0.5"/>
</g>
<rect x="305.5" y="4.5" width="213.0" height="156.0" fill="none" stroke="#333" stroke-width="0.8"/>
<line x1="305.50" y1="160.5" x2="305.50" y2="158.0" stroke="#333" stroke-width="0.7"/>
<line x1="305.50" y1="4.5" x2="305.50" y2="7.0" stroke="#333" stroke-width="0.7"/>
<text x="306.00" y="173.3" class="serif" font-size="10.3" text-anchor="middle" fill="#222">0.0</text>
<line x1="368.20" y1="160.5" x2="368.20" y2="158.0" stroke="#333" stroke-width="0.7"/>
<line x1="368.20" y1="4.5" x2="368.20" y2="7.0" stroke="#333" stroke-width="0.7"/>
<text x="368.70" y="173.3" class="serif" font-size="10.3" text-anchor="middle" fill="#222">0.5</text>
<line x1="430.90" y1="160.5" x2="430.90" y2="158.0" stroke="#333" stroke-width="0.7"/>
<line x1="430.90" y1="4.5" x2="430.90" y2="7.0" stroke="#333" stroke-width="0.7"/>
<text x="431.40" y="173.3" class="serif" font-size="10.3" text-anchor="middle" fill="#222">1.0</text>
<line x1="493.60" y1="160.5" x2="493.60" y2="158.0" stroke="#333" stroke-width="0.7"/>
<line x1="493.60" y1="4.5" x2="493.60" y2="7.0" stroke="#333" stroke-width="0.7"/>
<text x="494.10" y="173.3" class="serif" font-size="10.3" text-anchor="middle" fill="#222">1.5</text>
<line x1="336.85" y1="160.5" x2="336.85" y2="159.0" stroke="#333" stroke-width="0.6"/>
<line x1="336.85" y1="4.5" x2="336.85" y2="6.0" stroke="#333" stroke-width="0.6"/>
<line x1="399.55" y1="160.5" x2="399.55" y2="159.0" stroke="#333" stroke-width="0.6"/>
<line x1="399.55" y1="4.5" x2="399.55" y2="6.0" stroke="#333" stroke-width="0.6"/>
<line x1="462.25" y1="160.5" x2="462.25" y2="159.0" stroke="#333" stroke-width="0.6"/>
<line x1="462.25" y1="4.5" x2="462.25" y2="6.0" stroke="#333" stroke-width="0.6"/>
<line x1="305.5" y1="160.50" x2="308.0" y2="160.50" stroke="#333" stroke-width="0.7"/>
<line x1="518.5" y1="160.50" x2="516.0" y2="160.50" stroke="#333" stroke-width="0.7"/>
<text x="301.9" y="163.90" class="serif" font-size="10.3" text-anchor="end" fill="#222">0</text>
<line x1="305.5" y1="108.50" x2="308.0" y2="108.50" stroke="#333" stroke-width="0.7"/>
<line x1="518.5" y1="108.50" x2="516.0" y2="108.50" stroke="#333" stroke-width="0.7"/>
<text x="301.9" y="111.90" class="serif" font-size="10.3" text-anchor="end" fill="#222">1</text>
<line x1="305.5" y1="56.50" x2="308.0" y2="56.50" stroke="#333" stroke-width="0.7"/>
<line x1="518.5" y1="56.50" x2="516.0" y2="56.50" stroke="#333" stroke-width="0.7"/>
<text x="301.9" y="59.90" class="serif" font-size="10.3" text-anchor="end" fill="#222">2</text>
<line x1="305.5" y1="4.50" x2="308.0" y2="4.50" stroke="#333" stroke-width="0.7"/>
<line x1="518.5" y1="4.50" x2="516.0" y2="4.50" stroke="#333" stroke-width="0.7"/>
<text x="301.0" y="7.90" class="serif" font-size="10.3" text-anchor="end" fill="#222">3</text>
<line x1="305.5" y1="134.50" x2="307.0" y2="134.50" stroke="#333" stroke-width="0.6"/>
<line x1="518.5" y1="134.50" x2="517.0" y2="134.50" stroke="#333" stroke-width="0.6"/>
<line x1="305.5" y1="82.50" x2="307.0" y2="82.50" stroke="#333" stroke-width="0.6"/>
<line x1="518.5" y1="82.50" x2="517.0" y2="82.50" stroke="#333" stroke-width="0.6"/>
<line x1="305.5" y1="30.50" x2="307.0" y2="30.50" stroke="#333" stroke-width="0.6"/>
<line x1="518.5" y1="30.50" x2="517.0" y2="30.50" stroke="#333" stroke-width="0.6"/>
<text transform="translate(290.3,89.5) rotate(-90)" class="serif" font-size="10.6" text-anchor="middle" fill="#222">Film thickness (mm)</text>
<text x="412.5" y="190.8" class="serif" font-size="14.5" text-anchor="middle" fill="#222">x/D</text>
<line x1="464.6" y1="11.5" x2="488.3" y2="11.5" stroke="#000000" stroke-width="1.4"/>
<rect x="475.09999999999997" y="9.9" width="3.2" height="3.2" fill="#fff" stroke="#000000" stroke-width="0.5"/>
<text x="490.3" y="15.00" class="sans lg" font-size="9.8" fill="#111">t=4s</text>
<line x1="464.6" y1="24.05" x2="488.3" y2="24.05" stroke="#e02828" stroke-width="1.4"/>
<circle cx="476.7" cy="24.05" r="1.6" fill="#fff" stroke="#e02828" stroke-width="0.5"/>
<text x="490.3" y="27.55" class="sans lg" font-size="9.8" fill="#111">t=8s</text>
<line x1="464.6" y1="36.6" x2="488.3" y2="36.6" stroke="#22e022" stroke-width="1.4"/>
<polygon points="475.10,37.88 478.30,37.88 476.70,35.00" fill="#fff" stroke="#22e022" stroke-width="0.5"/>
<text x="490.3" y="40.10" class="sans lg" font-size="9.8" fill="#111">t=12s</text>
<line x1="464.6" y1="49.150000000000006" x2="488.3" y2="49.150000000000006" stroke="#1c1cc8" stroke-width="1.4"/>
<polygon points="475.10,47.87 478.30,47.87 476.70,50.75" fill="#fff" stroke="#1c1cc8" stroke-width="0.5"/>
<text x="490.3" y="52.65" class="sans lg" font-size="9.8" fill="#111">t=16s</text>
<line x1="464.6" y1="61.7" x2="488.3" y2="61.7" stroke="#20e4e4" stroke-width="1.4"/>
<polygon points="475.10,61.70 476.70,59.94 478.30,61.70 476.70,63.46" fill="#fff" stroke="#20e4e4" stroke-width="0.5"/>
<text x="490.3" y="65.20" class="sans lg" font-size="9.8" fill="#111">t=20s</text>
<text x="270" y="22.2" class="sans" font-weight="bold" font-size="20" fill="#000" textLength="25.2" lengthAdjust="spacingAndGlyphs">(b)</text>
</g>
<g id="pc">
<rect x="49.5" y="225.5" width="193.0" height="160.0" fill="none" stroke="#2a2a2a" stroke-width="0.9"/>
<line x1="49.50" y1="385.5" x2="49.50" y2="383.5" stroke="#2a2a2a" stroke-width="0.8"/>
<line x1="49.50" y1="225.5" x2="49.50" y2="227.5" stroke="#2a2a2a" stroke-width="0.8"/>
<text x="49.50" y="398.8" class="serif" font-size="13.8" text-anchor="middle" fill="#222">0</text>
<line x1="97.75" y1="385.5" x2="97.75" y2="383.5" stroke="#2a2a2a" stroke-width="0.8"/>
<line x1="97.75" y1="225.5" x2="97.75" y2="227.5" stroke="#2a2a2a" stroke-width="0.8"/>
<text x="97.75" y="398.8" class="serif" font-size="13.8" text-anchor="middle" fill="#222">5</text>
<line x1="146.00" y1="385.5" x2="146.00" y2="383.5" stroke="#2a2a2a" stroke-width="0.8"/>
<line x1="146.00" y1="225.5" x2="146.00" y2="227.5" stroke="#2a2a2a" stroke-width="0.8"/>
<text x="146.00" y="398.8" class="serif" font-size="13.8" text-anchor="middle" fill="#222">10</text>
<line x1="194.25" y1="385.5" x2="194.25" y2="383.5" stroke="#2a2a2a" stroke-width="0.8"/>
<line x1="194.25" y1="225.5" x2="194.25" y2="227.5" stroke="#2a2a2a" stroke-width="0.8"/>
<text x="194.25" y="398.8" class="serif" font-size="13.8" text-anchor="middle" fill="#222">15</text>
<line x1="242.50" y1="385.5" x2="242.50" y2="383.5" stroke="#2a2a2a" stroke-width="0.8"/>
<line x1="242.50" y1="225.5" x2="242.50" y2="227.5" stroke="#2a2a2a" stroke-width="0.8"/>
<text x="242.50" y="398.8" class="serif" font-size="13.8" text-anchor="middle" fill="#222">20</text>
<line x1="49.5" y1="385.50" x2="51.5" y2="385.50" stroke="#2a2a2a" stroke-width="0.8"/>
<line x1="242.5" y1="385.50" x2="240.5" y2="385.50" stroke="#2a2a2a" stroke-width="0.8"/>
<text x="46.9" y="390.00" class="serif" font-size="13.8" text-anchor="end" fill="#222">0</text>
<line x1="49.5" y1="353.50" x2="51.5" y2="353.50" stroke="#2a2a2a" stroke-width="0.8"/>
<line x1="242.5" y1="353.50" x2="240.5" y2="353.50" stroke="#2a2a2a" stroke-width="0.8"/>
<text x="46.9" y="358.00" class="serif" font-size="13.8" text-anchor="end" fill="#222">0.02</text>
<line x1="49.5" y1="321.50" x2="51.5" y2="321.50" stroke="#2a2a2a" stroke-width="0.8"/>
<line x1="242.5" y1="321.50" x2="240.5" y2="321.50" stroke="#2a2a2a" stroke-width="0.8"/>
<text x="46.9" y="326.00" class="serif" font-size="13.8" text-anchor="end" fill="#222">0.04</text>
<line x1="49.5" y1="289.50" x2="51.5" y2="289.50" stroke="#2a2a2a" stroke-width="0.8"/>
<line x1="242.5" y1="289.50" x2="240.5" y2="289.50" stroke="#2a2a2a" stroke-width="0.8"/>
<text x="46.9" y="294.00" class="serif" font-size="13.8" text-anchor="end" fill="#222">0.06</text>
<line x1="49.5" y1="257.50" x2="51.5" y2="257.50" stroke="#2a2a2a" stroke-width="0.8"/>
<line x1="242.5" y1="257.50" x2="240.5" y2="257.50" stroke="#2a2a2a" stroke-width="0.8"/>
<text x="46.9" y="262.00" class="serif" font-size="13.8" text-anchor="end" fill="#222">0.08</text>
<line x1="49.5" y1="225.50" x2="51.5" y2="225.50" stroke="#2a2a2a" stroke-width="0.8"/>
<line x1="242.5" y1="225.50" x2="240.5" y2="225.50" stroke="#2a2a2a" stroke-width="0.8"/>
<text x="46.9" y="230.00" class="serif" font-size="13.8" text-anchor="end" fill="#222">0.1</text>
<polyline points="49.50,382.30 50.47,381.35 51.44,380.40 52.41,379.44 53.38,378.48 54.35,377.51 55.32,376.53 56.29,375.55 57.26,374.56 58.23,373.56 59.20,372.56 60.17,371.56 61.14,370.54 62.11,369.51 63.08,368.47 64.05,367.41 65.02,366.33 65.99,365.25 66.96,364.15 67.93,363.05 68.90,361.94 69.87,360.83 70.84,359.72 71.81,358.62 72.78,357.53 73.75,356.42 74.72,355.29 75.69,354.16 76.66,353.02 77.63,351.90 78.60,350.80 79.57,349.74 80.54,348.72 81.51,347.77 82.47,346.88 83.44,346.04 84.41,345.24 85.38,344.46 86.35,343.69 87.32,342.92 88.29,342.14 89.26,341.36 90.23,340.58 91.20,339.80 92.17,339.03 93.14,338.26 94.11,337.49 95.08,336.72 96.05,335.96 97.02,335.19 97.99,334.43 98.96,333.66 99.93,332.90 100.90,332.13 101.87,331.37 102.84,330.60 103.81,329.83 104.78,329.06 105.75,328.30 106.72,327.53 107.69,326.77 108.66,326.00 109.63,325.24 110.60,324.48 111.57,323.73 112.54,322.97 113.51,322.22 114.48,321.47 115.45,320.73 116.42,319.99 117.39,319.25 118.36,318.52 119.33,317.79 120.30,317.06 121.27,316.35 122.24,315.63 123.21,314.93 124.18,314.22 125.15,313.52 126.12,312.83 127.09,312.13 128.06,311.45 129.03,310.76 130.00,310.08 130.97,309.40 131.94,308.72 132.91,308.05 133.88,307.38 134.85,306.71 135.82,306.04 136.79,305.37 137.76,304.71 138.73,304.05 139.70,303.39 140.67,302.73 141.64,302.07 142.61,301.41 143.58,300.75 144.55,300.09 145.52,299.43 146.48,298.77 147.45,298.11 148.42,297.45 149.39,296.79 150.36,296.14 151.33,295.48 152.30,294.82 153.27,294.17 154.24,293.51 155.21,292.86 156.18,292.20 157.15,291.55 158.12,290.91 159.09,290.26 160.06,289.61 161.03,288.97 162.00,288.33 162.97,287.70 163.94,287.06 164.91,286.43 165.88,285.80 166.85,285.18 167.82,284.56 168.79,283.94 169.76,283.33 170.73,282.72 171.70,282.11 172.67,281.50 173.64,280.90 174.61,280.29 175.58,279.69 176.55,279.09 177.52,278.49 178.49,277.89 179.46,277.30 180.43,276.71 181.40,276.12 182.37,275.53 183.34,274.95 184.31,274.37 185.28,273.80 186.25,273.23 187.22,272.66 188.19,272.10 189.16,271.54 190.13,270.99 191.10,270.44 192.07,269.90 193.04,269.36 194.01,268.83 194.98,268.31 195.95,267.78 196.92,267.26 197.89,266.74 198.86,266.22 199.83,265.71 200.80,265.20 201.77,264.69 202.74,264.19 203.71,263.69 204.68,263.19 205.65,262.70 206.62,262.21 207.59,261.72 208.56,261.24 209.53,260.77 210.49,260.30 211.46,259.83 212.43,259.38 213.40,258.92 214.37,258.48 215.34,258.04 216.31,257.60 217.28,257.17 218.25,256.75 219.22,256.34 220.19,255.92 221.16,255.52 222.13,255.11 223.10,254.71 224.07,254.31 225.04,253.92 226.01,253.53 226.98,253.14 227.95,252.76 228.92,252.39 229.89,252.01 230.86,251.64 231.83,251.28 232.80,250.92 233.77,250.56 234.74,250.21 235.71,249.87 236.68,249.52 237.65,249.19 238.62,248.86 239.59,248.53 240.56,248.21 241.53,247.89 242.50,247.58" fill="none" stroke="#000" stroke-width="2.9" stroke-linecap="round" stroke-linejoin="round" filter="url(#blurC)"/>
<g filter="url(#blurC)">
<circle cx="49.50" cy="382.30" r="1.95" fill="#000"/>
<circle cx="51.43" cy="380.41" r="1.95" fill="#000"/>
<circle cx="53.36" cy="378.50" r="1.95" fill="#000"/>
<circle cx="55.29" cy="376.56" r="1.95" fill="#000"/>
<circle cx="57.22" cy="374.60" r="1.95" fill="#000"/>
<circle cx="59.15" cy="372.61" r="1.95" fill="#000"/>
<circle cx="61.08" cy="370.60" r="1.95" fill="#000"/>
<circle cx="63.01" cy="368.54" r="1.95" fill="#000"/>
<circle cx="64.94" cy="366.42" r="1.95" fill="#000"/>
<circle cx="66.87" cy="364.25" r="1.95" fill="#000"/>
<circle cx="68.80" cy="362.05" r="1.95" fill="#000"/>
<circle cx="70.73" cy="359.84" r="1.95" fill="#000"/>
<circle cx="72.66" cy="357.66" r="1.95" fill="#000"/>
<circle cx="74.59" cy="355.44" r="1.95" fill="#000"/>
<circle cx="76.52" cy="353.18" r="1.95" fill="#000"/>
<circle cx="78.45" cy="350.96" r="1.95" fill="#000"/>
<circle cx="80.38" cy="348.88" r="1.95" fill="#000"/>
<circle cx="82.31" cy="347.03" r="1.95" fill="#000"/>
<circle cx="84.24" cy="345.38" r="1.95" fill="#000"/>
<circle cx="86.17" cy="343.84" r="1.95" fill="#000"/>
<circle cx="88.10" cy="342.30" r="1.95" fill="#000"/>
<circle cx="90.03" cy="340.74" r="1.95" fill="#000"/>
<circle cx="91.96" cy="339.20" r="1.95" fill="#000"/>
<circle cx="93.89" cy="337.66" r="1.95" fill="#000"/>
<circle cx="95.82" cy="336.14" r="1.95" fill="#000"/>
<circle cx="97.75" cy="334.62" r="1.95" fill="#000"/>
<circle cx="99.68" cy="333.10" r="1.95" fill="#000"/>
<circle cx="101.61" cy="331.57" r="1.95" fill="#000"/>
<circle cx="103.54" cy="330.05" r="1.95" fill="#000"/>
<circle cx="105.47" cy="328.52" r="1.95" fill="#000"/>
<circle cx="107.40" cy="327.00" r="1.95" fill="#000"/>
<circle cx="109.33" cy="325.48" r="1.95" fill="#000"/>
<circle cx="111.26" cy="323.97" r="1.95" fill="#000"/>
<circle cx="113.19" cy="322.47" r="1.95" fill="#000"/>
<circle cx="115.12" cy="320.98" r="1.95" fill="#000"/>
<circle cx="117.05" cy="319.51" r="1.95" fill="#000"/>
<circle cx="118.98" cy="318.05" r="1.95" fill="#000"/>
<circle cx="120.91" cy="316.61" r="1.95" fill="#000"/>
<circle cx="122.84" cy="315.19" r="1.95" fill="#000"/>
<circle cx="124.77" cy="313.79" r="1.95" fill="#000"/>
<circle cx="126.70" cy="312.41" r="1.95" fill="#000"/>
<circle cx="128.63" cy="311.04" r="1.95" fill="#000"/>
<circle cx="130.56" cy="309.68" r="1.95" fill="#000"/>
<circle cx="132.49" cy="308.34" r="1.95" fill="#000"/>
<circle cx="134.42" cy="307.00" r="1.95" fill="#000"/>
<circle cx="136.35" cy="305.67" r="1.95" fill="#000"/>
<circle cx="138.28" cy="304.35" r="1.95" fill="#000"/>
<circle cx="140.21" cy="303.04" r="1.95" fill="#000"/>
<circle cx="142.14" cy="301.72" r="1.95" fill="#000"/>
<circle cx="144.07" cy="300.41" r="1.95" fill="#000"/>
<circle cx="146.00" cy="299.10" r="1.95" fill="#000"/>
<circle cx="147.93" cy="297.79" r="1.95" fill="#000"/>
<circle cx="149.86" cy="296.48" r="1.95" fill="#000"/>
<circle cx="151.79" cy="295.17" r="1.95" fill="#000"/>
<circle cx="153.72" cy="293.86" r="1.95" fill="#000"/>
<circle cx="155.65" cy="292.56" r="1.95" fill="#000"/>
<circle cx="157.58" cy="291.27" r="1.95" fill="#000"/>
<circle cx="159.51" cy="289.98" r="1.95" fill="#000"/>
<circle cx="161.44" cy="288.70" r="1.95" fill="#000"/>
<circle cx="163.37" cy="287.44" r="1.95" fill="#000"/>
<circle cx="165.30" cy="286.18" r="1.95" fill="#000"/>
<circle cx="167.23" cy="284.94" r="1.95" fill="#000"/>
<circle cx="169.16" cy="283.71" r="1.95" fill="#000"/>
<circle cx="171.09" cy="282.49" r="1.95" fill="#000"/>
<circle cx="173.02" cy="281.28" r="1.95" fill="#000"/>
<circle cx="174.95" cy="280.08" r="1.95" fill="#000"/>
<circle cx="176.88" cy="278.88" r="1.95" fill="#000"/>
<circle cx="178.81" cy="277.70" r="1.95" fill="#000"/>
<circle cx="180.74" cy="276.52" r="1.95" fill="#000"/>
<circle cx="182.67" cy="275.35" r="1.95" fill="#000"/>
<circle cx="184.60" cy="274.20" r="1.95" fill="#000"/>
<circle cx="186.53" cy="273.06" r="1.95" fill="#000"/>
<circle cx="188.46" cy="271.94" r="1.95" fill="#000"/>
<circle cx="190.39" cy="270.84" r="1.95" fill="#000"/>
<circle cx="192.32" cy="269.76" r="1.95" fill="#000"/>
<circle cx="194.25" cy="268.70" r="1.95" fill="#000"/>
<circle cx="196.18" cy="267.66" r="1.95" fill="#000"/>
<circle cx="198.11" cy="266.62" r="1.95" fill="#000"/>
<circle cx="200.04" cy="265.60" r="1.95" fill="#000"/>
<circle cx="201.97" cy="264.58" r="1.95" fill="#000"/>
<circle cx="203.90" cy="263.59" r="1.95" fill="#000"/>
<circle cx="205.83" cy="262.60" r="1.95" fill="#000"/>
<circle cx="207.76" cy="261.64" r="1.95" fill="#000"/>
<circle cx="209.69" cy="260.69" r="1.95" fill="#000"/>
<circle cx="211.62" cy="259.76" r="1.95" fill="#000"/>
<circle cx="213.55" cy="258.86" r="1.95" fill="#000"/>
<circle cx="215.48" cy="257.97" r="1.95" fill="#000"/>
<circle cx="217.41" cy="257.12" r="1.95" fill="#000"/>
<circle cx="219.34" cy="256.29" r="1.95" fill="#000"/>
<circle cx="221.27" cy="255.47" r="1.95" fill="#000"/>
<circle cx="223.20" cy="254.67" r="1.95" fill="#000"/>
<circle cx="225.13" cy="253.88" r="1.95" fill="#000"/>
<circle cx="227.06" cy="253.11" r="1.95" fill="#000"/>
<circle cx="228.99" cy="252.36" r="1.95" fill="#000"/>
<circle cx="230.92" cy="251.62" r="1.95" fill="#000"/>
<circle cx="232.85" cy="250.90" r="1.95" fill="#000"/>
<circle cx="234.78" cy="250.20" r="1.95" fill="#000"/>
<circle cx="236.71" cy="249.51" r="1.95" fill="#000"/>
<circle cx="238.64" cy="248.85" r="1.95" fill="#000"/>
<circle cx="240.57" cy="248.20" r="1.95" fill="#000"/>
<circle cx="242.50" cy="247.58" r="1.95" fill="#000"/>
</g>
<text transform="translate(18.2,305.5) rotate(-90)" class="serif" font-size="13.6" text-anchor="middle" fill="#222">Location (m)</text>
<text x="145.8" y="412" class="serif" font-size="14" text-anchor="middle" fill="#222">Time (s)</text>
<text x="3.8" y="249.5" class="sans" font-weight="bold" font-size="21.5" fill="#000" textLength="21.2" lengthAdjust="spacingAndGlyphs">(c)</text>
</g>
<g id="pd">
<rect x="307.5" y="235.5" width="205.0" height="151.0" fill="none" stroke="#2a2a2a" stroke-width="0.9"/>
<line x1="307.50" y1="386.5" x2="307.50" y2="384.5" stroke="#2a2a2a" stroke-width="0.8"/>
<line x1="307.50" y1="235.5" x2="307.50" y2="237.5" stroke="#2a2a2a" stroke-width="0.8"/>
<text x="307.50" y="399.6" class="serif" font-size="13.8" text-anchor="middle" fill="#222">0</text>
<line x1="358.75" y1="386.5" x2="358.75" y2="384.5" stroke="#2a2a2a" stroke-width="0.8"/>
<line x1="358.75" y1="235.5" x2="358.75" y2="237.5" stroke="#2a2a2a" stroke-width="0.8"/>
<text x="358.75" y="399.6" class="serif" font-size="13.8" text-anchor="middle" fill="#222">5</text>
<line x1="410.00" y1="386.5" x2="410.00" y2="384.5" stroke="#2a2a2a" stroke-width="0.8"/>
<line x1="410.00" y1="235.5" x2="410.00" y2="237.5" stroke="#2a2a2a" stroke-width="0.8"/>
<text x="410.00" y="399.6" class="serif" font-size="13.8" text-anchor="middle" fill="#222">10</text>
<line x1="461.25" y1="386.5" x2="461.25" y2="384.5" stroke="#2a2a2a" stroke-width="0.8"/>
<line x1="461.25" y1="235.5" x2="461.25" y2="237.5" stroke="#2a2a2a" stroke-width="0.8"/>
<text x="461.25" y="399.6" class="serif" font-size="13.8" text-anchor="middle" fill="#222">15</text>
<line x1="512.50" y1="386.5" x2="512.50" y2="384.5" stroke="#2a2a2a" stroke-width="0.8"/>
<line x1="512.50" y1="235.5" x2="512.50" y2="237.5" stroke="#2a2a2a" stroke-width="0.8"/>
<text x="512.50" y="399.6" class="serif" font-size="13.8" text-anchor="middle" fill="#222">20</text>
<line x1="307.5" y1="386.50" x2="309.5" y2="386.50" stroke="#2a2a2a" stroke-width="0.8"/>
<line x1="512.5" y1="386.50" x2="510.5" y2="386.50" stroke="#2a2a2a" stroke-width="0.8"/>
<text x="305.3" y="390.80" class="serif" font-size="13.8" text-anchor="end" fill="#222">2</text>
<line x1="307.5" y1="336.17" x2="309.5" y2="336.17" stroke="#2a2a2a" stroke-width="0.8"/>
<line x1="512.5" y1="336.17" x2="510.5" y2="336.17" stroke="#2a2a2a" stroke-width="0.8"/>
<text x="305.3" y="340.47" class="serif" font-size="13.8" text-anchor="end" fill="#222">4</text>
<line x1="307.5" y1="285.83" x2="309.5" y2="285.83" stroke="#2a2a2a" stroke-width="0.8"/>
<line x1="512.5" y1="285.83" x2="510.5" y2="285.83" stroke="#2a2a2a" stroke-width="0.8"/>
<text x="305.3" y="290.13" class="serif" font-size="13.8" text-anchor="end" fill="#222">6</text>
<line x1="307.5" y1="235.50" x2="309.5" y2="235.50" stroke="#2a2a2a" stroke-width="0.8"/>
<line x1="512.5" y1="235.50" x2="510.5" y2="235.50" stroke="#2a2a2a" stroke-width="0.8"/>
<text x="305.3" y="239.80" class="serif" font-size="13.8" text-anchor="end" fill="#222">8</text>
<polyline points="307.50,287.50 307.93,286.64 308.35,285.75 308.76,284.82 309.15,283.88 309.55,282.91 309.94,281.93 310.34,280.94 310.75,279.95 311.17,278.97 311.62,277.99 312.09,277.03 312.58,276.09 313.11,275.17 313.68,274.28 314.29,273.44 314.95,272.63 315.65,271.87 316.42,271.17 317.24,270.52 318.13,269.94 319.06,269.44 320.04,269.03 321.04,268.73 322.07,268.54 323.11,268.48 324.14,268.55 325.17,268.72 326.19,269.00 327.19,269.35 328.16,269.77 329.09,270.25 329.99,270.78 330.86,271.35 331.71,271.97 332.52,272.62 333.31,273.31 334.08,274.02 334.82,274.75 335.55,275.51 336.25,276.28 336.95,277.06 337.62,277.86 338.28,278.66 338.93,279.47 339.57,280.29 340.20,281.12 340.82,281.95 341.44,282.79 342.05,283.63 342.65,284.47 343.25,285.32 343.85,286.17 344.45,287.02 345.05,287.87 345.65,288.71 346.25,289.56 346.85,290.40 347.46,291.25 348.06,292.09 348.67,292.93 349.28,293.77 349.89,294.61 350.51,295.45 351.12,296.29 351.73,297.12 352.35,297.96 352.96,298.80 353.58,299.63 354.20,300.47 354.82,301.30 355.43,302.14 356.05,302.97 356.67,303.81 357.29,304.64 357.91,305.48 358.53,306.31 359.15,307.15 359.77,307.99 360.39,308.82 361.01,309.66 361.63,310.49 362.25,311.33 362.87,312.16 363.50,312.99 364.13,313.82 364.76,314.64 365.40,315.47 366.04,316.28 366.69,317.09 367.34,317.90 368.01,318.70 368.68,319.49 369.36,320.27 370.04,321.05 370.74,321.82 371.45,322.58 372.17,323.33 372.89,324.07 373.63,324.81 374.37,325.53 375.12,326.25 375.89,326.95 376.66,327.65 377.44,328.34 378.22,329.02 379.02,329.70 379.83,330.36 380.64,331.01 381.46,331.66 382.30,332.29 383.14,332.91 383.99,333.51 384.85,334.09 385.73,334.66 386.61,335.20 387.51,335.72 388.42,336.22 389.35,336.69 390.29,337.13 391.24,337.54 392.21,337.93 393.19,338.29 394.18,338.61 395.17,338.92 396.18,339.19 397.19,339.44 398.21,339.67 399.24,339.87 400.26,340.04 401.29,340.20 402.32,340.33 403.36,340.44 404.39,340.53 405.43,340.61 406.47,340.67 407.51,340.72 408.54,340.76 409.58,340.79 410.62,340.81 411.66,340.82 412.70,340.83 413.74,340.83 414.78,340.83 415.82,340.83 416.85,340.82 417.89,340.81 418.93,340.81 419.97,340.80 421.01,340.80 422.05,340.79 423.09,340.80 424.13,340.80 425.17,340.82 426.21,340.84 427.24,340.87 428.28,340.91 429.32,340.96 430.36,341.02 431.39,341.10 432.43,341.19 433.46,341.29 434.50,341.41 435.53,341.54 436.56,341.69 437.58,341.85 438.61,342.03 439.63,342.23 440.65,342.44 441.66,342.66 442.68,342.91 443.68,343.17 444.69,343.44 445.68,343.74 446.68,344.04 447.67,344.37 448.65,344.71 449.63,345.06 450.60,345.43 451.57,345.82 452.53,346.22 453.48,346.64 454.42,347.07 455.36,347.52 456.30,347.98 457.22,348.45 458.14,348.93 459.06,349.43 459.97,349.94 460.87,350.46 461.77,350.98 462.66,351.52 463.54,352.07 464.42,352.63 465.29,353.19 466.16,353.76 467.02,354.34 467.88,354.93 468.74,355.52 469.59,356.11 470.44,356.71 471.28,357.31 472.13,357.92 472.97,358.53 473.81,359.14 474.65,359.75 475.49,360.36 476.33,360.97 477.18,361.58 478.02,362.18 478.86,362.79 479.71,363.39 480.56,363.99 481.41,364.58 482.27,365.17 483.13,365.75 483.99,366.33 484.86,366.91 485.73,367.47 486.61,368.03 487.50,368.56 488.41,369.07 489.33,369.55 490.27,369.99 491.24,370.39 492.23,370.74 493.24,371.04 494.26,371.27 495.30,371.42 496.34,371.51 497.38,371.51 498.41,371.42 499.44,371.24 500.46,370.99 501.45,370.66 502.42,370.27 503.37,369.82 504.28,369.31 505.16,368.76 506.01,368.16 506.84,367.52 507.63,366.84 508.39,366.13 509.13,365.38 509.84,364.61 510.52,363.82 511.18,363.01 511.81,362.18 512.42,361.35 513.00,360.50" fill="none" stroke="#000" stroke-width="3.6" stroke-linecap="butt" stroke-linejoin="round" filter="url(#blurC)"/>
<text transform="translate(292.2,310) rotate(-90)" class="serif" font-size="14.1" text-anchor="middle" fill="#222">Velocity (m/s)</text>
<text x="409.5" y="412" class="serif" font-size="14" text-anchor="middle" fill="#222">Time (s)</text>
<text x="309" y="233.5" class="serif" font-size="13.6" fill="#222">x 10<tspan dy="-6.5" font-size="9.5">-3</tspan></text>
<text x="269" y="250" class="sans" font-weight="bold" font-size="20.5" fill="#000" textLength="26.4" lengthAdjust="spacingAndGlyphs">(d)</text>
</g>
</g>
</svg>
</body></html>
